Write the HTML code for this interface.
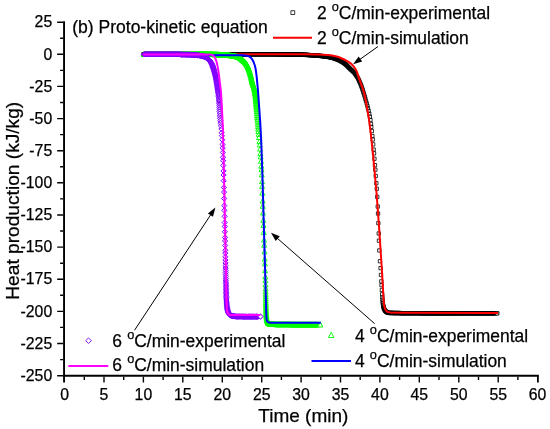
<!DOCTYPE html>
<html><head><meta charset="utf-8"><title>Proto-kinetic equation</title>
<style>
html,body{margin:0;padding:0;background:#fff;}
svg{display:block;}
text{font-family:"Liberation Sans",Arial,sans-serif;fill:#000;stroke:#000;stroke-width:0.25px;}
.tk{font-size:15.8px;}
.lg{font-size:17.45px;}
.sup{font-size:12.8px;}
.ti{font-size:17.5px;}
.al{font-size:19.15px;}
</style></head><body>
<svg width="550" height="429" viewBox="0 0 550 429">
<rect width="550" height="429" fill="#fff"/>
<!-- 2 C/min experimental -->
<path d="M141.8 52.6h3.3v3.3h-3.3zM142.3 52.6h3.3v3.3h-3.3zM142.8 52.6h3.3v3.3h-3.3zM143.3 52.6h3.3v3.3h-3.3zM143.8 52.6h3.3v3.3h-3.3zM144.3 52.6h3.3v3.3h-3.3zM144.8 52.6h3.3v3.3h-3.3zM145.3 52.6h3.3v3.3h-3.3zM145.8 52.6h3.3v3.3h-3.3zM146.3 52.6h3.3v3.3h-3.3zM146.8 52.6h3.3v3.3h-3.3zM147.3 52.6h3.3v3.3h-3.3zM147.8 52.6h3.3v3.3h-3.3zM148.3 52.6h3.3v3.3h-3.3zM148.8 52.6h3.3v3.3h-3.3zM149.3 52.6h3.3v3.3h-3.3zM149.8 52.6h3.3v3.3h-3.3zM150.3 52.6h3.3v3.3h-3.3zM150.8 52.6h3.3v3.3h-3.3zM151.3 52.6h3.3v3.3h-3.3zM151.8 52.6h3.3v3.3h-3.3zM152.3 52.6h3.3v3.3h-3.3zM152.8 52.6h3.3v3.3h-3.3zM153.3 52.6h3.3v3.3h-3.3zM153.8 52.6h3.3v3.3h-3.3zM154.3 52.6h3.3v3.3h-3.3zM154.8 52.6h3.3v3.3h-3.3zM155.3 52.6h3.3v3.3h-3.3zM155.8 52.6h3.3v3.3h-3.3zM156.3 52.6h3.3v3.3h-3.3zM156.8 52.6h3.3v3.3h-3.3zM157.3 52.6h3.3v3.3h-3.3zM157.8 52.6h3.3v3.3h-3.3zM158.3 52.6h3.3v3.3h-3.3zM158.8 52.6h3.3v3.3h-3.3zM159.3 52.6h3.3v3.3h-3.3zM159.8 52.6h3.3v3.3h-3.3zM160.3 52.6h3.3v3.3h-3.3zM160.8 52.6h3.3v3.3h-3.3zM161.3 52.6h3.3v3.3h-3.3zM161.8 52.6h3.3v3.3h-3.3zM162.3 52.6h3.3v3.3h-3.3zM162.8 52.6h3.3v3.3h-3.3zM163.3 52.6h3.3v3.3h-3.3zM163.8 52.6h3.3v3.3h-3.3zM164.3 52.6h3.3v3.3h-3.3zM164.8 52.6h3.3v3.3h-3.3zM165.3 52.6h3.3v3.3h-3.3zM165.8 52.6h3.3v3.3h-3.3zM166.3 52.6h3.3v3.3h-3.3zM166.8 52.6h3.3v3.3h-3.3zM167.3 52.6h3.3v3.3h-3.3zM167.8 52.6h3.3v3.3h-3.3zM168.3 52.6h3.3v3.3h-3.3zM168.8 52.6h3.3v3.3h-3.3zM169.3 52.6h3.3v3.3h-3.3zM169.8 52.6h3.3v3.3h-3.3zM170.3 52.6h3.3v3.3h-3.3zM170.8 52.6h3.3v3.3h-3.3zM171.3 52.6h3.3v3.3h-3.3zM171.8 52.6h3.3v3.3h-3.3zM172.3 52.6h3.3v3.3h-3.3zM172.8 52.6h3.3v3.3h-3.3zM173.3 52.6h3.3v3.3h-3.3zM173.8 52.6h3.3v3.3h-3.3zM174.3 52.6h3.3v3.3h-3.3zM174.8 52.6h3.3v3.3h-3.3zM175.3 52.6h3.3v3.3h-3.3zM175.8 52.6h3.3v3.3h-3.3zM176.3 52.6h3.3v3.3h-3.3zM176.8 52.6h3.3v3.3h-3.3zM177.3 52.6h3.3v3.3h-3.3zM177.8 52.6h3.3v3.3h-3.3zM178.3 52.6h3.3v3.3h-3.3zM178.8 52.6h3.3v3.3h-3.3zM179.3 52.6h3.3v3.3h-3.3zM179.8 52.6h3.3v3.3h-3.3zM180.3 52.6h3.3v3.3h-3.3zM180.8 52.6h3.3v3.3h-3.3zM181.3 52.6h3.3v3.3h-3.3zM181.8 52.6h3.3v3.3h-3.3zM182.3 52.6h3.3v3.3h-3.3zM182.8 52.6h3.3v3.3h-3.3zM183.3 52.6h3.3v3.3h-3.3zM183.8 52.6h3.3v3.3h-3.3zM184.3 52.6h3.3v3.3h-3.3zM184.8 52.6h3.3v3.3h-3.3zM185.3 52.6h3.3v3.3h-3.3zM185.8 52.6h3.3v3.3h-3.3zM186.3 52.6h3.3v3.3h-3.3zM186.8 52.6h3.3v3.3h-3.3zM187.3 52.6h3.3v3.3h-3.3zM187.8 52.6h3.3v3.3h-3.3zM188.3 52.6h3.3v3.3h-3.3zM188.8 52.6h3.3v3.3h-3.3zM189.3 52.6h3.3v3.3h-3.3zM189.8 52.6h3.3v3.3h-3.3zM190.3 52.6h3.3v3.3h-3.3zM190.8 52.6h3.3v3.3h-3.3zM191.3 52.6h3.3v3.3h-3.3zM191.8 52.6h3.3v3.3h-3.3zM192.3 52.6h3.3v3.3h-3.3zM192.8 52.6h3.3v3.3h-3.3zM193.3 52.6h3.3v3.3h-3.3zM193.8 52.6h3.3v3.3h-3.3zM194.3 52.6h3.3v3.3h-3.3zM194.8 52.6h3.3v3.3h-3.3zM195.3 52.6h3.3v3.3h-3.3zM195.8 52.6h3.3v3.3h-3.3zM196.3 52.6h3.3v3.3h-3.3zM196.8 52.6h3.3v3.3h-3.3zM197.3 52.6h3.3v3.3h-3.3zM197.8 52.6h3.3v3.3h-3.3zM198.3 52.6h3.3v3.3h-3.3zM198.8 52.6h3.3v3.3h-3.3zM199.3 52.6h3.3v3.3h-3.3zM199.8 52.6h3.3v3.3h-3.3zM200.3 52.6h3.3v3.3h-3.3zM200.8 52.6h3.3v3.3h-3.3zM201.3 52.6h3.3v3.3h-3.3zM201.8 52.6h3.3v3.3h-3.3zM202.3 52.6h3.3v3.3h-3.3zM202.8 52.6h3.3v3.3h-3.3zM203.3 52.6h3.3v3.3h-3.3zM203.8 52.6h3.3v3.3h-3.3zM204.3 52.6h3.3v3.3h-3.3zM204.8 52.6h3.3v3.3h-3.3zM205.3 52.6h3.3v3.3h-3.3zM205.8 52.6h3.3v3.3h-3.3zM206.3 52.6h3.3v3.3h-3.3zM206.8 52.6h3.3v3.3h-3.3zM207.3 52.6h3.3v3.3h-3.3zM207.8 52.6h3.3v3.3h-3.3zM208.3 52.6h3.3v3.3h-3.3zM208.8 52.6h3.3v3.3h-3.3zM209.3 52.6h3.3v3.3h-3.3zM209.8 52.6h3.3v3.3h-3.3zM210.3 52.6h3.3v3.3h-3.3zM210.8 52.6h3.3v3.3h-3.3zM211.3 52.6h3.3v3.3h-3.3zM211.8 52.6h3.3v3.3h-3.3zM212.3 52.6h3.3v3.3h-3.3zM212.8 52.6h3.3v3.3h-3.3zM213.3 52.6h3.3v3.3h-3.3zM213.8 52.6h3.3v3.3h-3.3zM214.3 52.6h3.3v3.3h-3.3zM214.8 52.6h3.3v3.3h-3.3zM215.3 52.6h3.3v3.3h-3.3zM215.8 52.6h3.3v3.3h-3.3zM216.3 52.6h3.3v3.3h-3.3zM216.8 52.6h3.3v3.3h-3.3zM217.3 52.6h3.3v3.3h-3.3zM217.8 52.6h3.3v3.3h-3.3zM218.3 52.6h3.3v3.3h-3.3zM218.8 52.6h3.3v3.3h-3.3zM219.3 52.6h3.3v3.3h-3.3zM219.8 52.6h3.3v3.3h-3.3zM220.3 52.6h3.3v3.3h-3.3zM220.8 52.6h3.3v3.3h-3.3zM221.3 52.6h3.3v3.3h-3.3zM221.8 52.6h3.3v3.3h-3.3zM222.3 52.6h3.3v3.3h-3.3zM222.8 52.6h3.3v3.3h-3.3zM223.3 52.6h3.3v3.3h-3.3zM223.8 52.6h3.3v3.3h-3.3zM224.3 52.6h3.3v3.3h-3.3zM224.8 52.6h3.3v3.3h-3.3zM225.3 52.6h3.3v3.3h-3.3zM225.8 52.6h3.3v3.3h-3.3zM226.3 52.6h3.3v3.3h-3.3zM226.8 52.6h3.3v3.3h-3.3zM227.3 52.6h3.3v3.3h-3.3zM227.8 52.6h3.3v3.3h-3.3zM228.3 52.6h3.3v3.3h-3.3zM228.8 52.6h3.3v3.3h-3.3zM229.3 52.6h3.3v3.3h-3.3zM229.8 52.6h3.3v3.3h-3.3zM230.3 52.6h3.3v3.3h-3.3zM230.8 52.6h3.3v3.3h-3.3zM231.3 52.6h3.3v3.3h-3.3zM231.8 52.6h3.3v3.3h-3.3zM232.3 52.6h3.3v3.3h-3.3zM232.8 52.6h3.3v3.3h-3.3zM233.3 52.6h3.3v3.3h-3.3zM233.8 52.6h3.3v3.3h-3.3zM234.3 52.6h3.3v3.3h-3.3zM234.8 52.6h3.3v3.3h-3.3zM235.3 52.6h3.3v3.3h-3.3zM235.8 52.6h3.3v3.3h-3.3zM236.3 52.6h3.3v3.3h-3.3zM236.8 52.6h3.3v3.3h-3.3zM237.3 52.6h3.3v3.3h-3.3zM237.8 52.6h3.3v3.3h-3.3zM238.3 52.6h3.3v3.3h-3.3zM238.8 52.6h3.3v3.3h-3.3zM239.3 52.6h3.3v3.3h-3.3zM239.8 52.6h3.3v3.3h-3.3zM240.3 52.6h3.3v3.3h-3.3zM240.8 52.6h3.3v3.3h-3.3zM241.3 52.6h3.3v3.3h-3.3zM241.8 52.6h3.3v3.3h-3.3zM242.3 52.6h3.3v3.3h-3.3zM242.8 52.6h3.3v3.3h-3.3zM243.3 52.6h3.3v3.3h-3.3zM243.8 52.6h3.3v3.3h-3.3zM244.3 52.6h3.3v3.3h-3.3zM244.7 52.6h3.3v3.3h-3.3zM245.2 52.6h3.3v3.3h-3.3zM245.7 52.6h3.3v3.3h-3.3zM246.2 52.6h3.3v3.3h-3.3zM246.7 52.6h3.3v3.3h-3.3zM247.2 52.6h3.3v3.3h-3.3zM247.7 52.6h3.3v3.3h-3.3zM248.2 52.6h3.3v3.3h-3.3zM248.7 52.6h3.3v3.3h-3.3zM249.2 52.6h3.3v3.3h-3.3zM249.7 52.6h3.3v3.3h-3.3zM250.2 52.6h3.3v3.3h-3.3zM250.8 52.6h3.3v3.3h-3.3zM251.3 52.6h3.3v3.3h-3.3zM251.8 52.6h3.3v3.3h-3.3zM252.3 52.6h3.3v3.3h-3.3zM252.8 52.6h3.3v3.3h-3.3zM253.3 52.6h3.3v3.3h-3.3zM253.8 52.6h3.3v3.3h-3.3zM254.3 52.6h3.3v3.3h-3.3zM254.8 52.6h3.3v3.3h-3.3zM255.3 52.6h3.3v3.3h-3.3zM255.8 52.6h3.3v3.3h-3.3zM256.3 52.6h3.3v3.3h-3.3zM256.8 52.6h3.3v3.3h-3.3zM257.3 52.6h3.3v3.3h-3.3zM257.8 52.6h3.3v3.3h-3.3zM258.3 52.6h3.3v3.3h-3.3zM258.8 52.6h3.3v3.3h-3.3zM259.3 52.6h3.3v3.3h-3.3zM259.8 52.6h3.3v3.3h-3.3zM260.3 52.6h3.3v3.3h-3.3zM260.8 52.6h3.3v3.3h-3.3zM261.3 52.6h3.3v3.3h-3.3zM261.8 52.6h3.3v3.3h-3.3zM262.3 52.6h3.3v3.3h-3.3zM262.8 52.6h3.3v3.3h-3.3zM263.3 52.6h3.3v3.3h-3.3zM263.8 52.6h3.3v3.3h-3.3zM264.3 52.6h3.3v3.3h-3.3zM264.8 52.6h3.3v3.3h-3.3zM265.3 52.6h3.3v3.3h-3.3zM265.8 52.6h3.3v3.3h-3.3zM266.3 52.6h3.3v3.3h-3.3zM266.8 52.6h3.3v3.3h-3.3zM267.3 52.6h3.3v3.3h-3.3zM267.8 52.6h3.3v3.3h-3.3zM268.3 52.6h3.3v3.3h-3.3zM268.8 52.6h3.3v3.3h-3.3zM269.3 52.6h3.3v3.3h-3.3zM269.8 52.6h3.3v3.3h-3.3zM270.3 52.6h3.3v3.3h-3.3zM270.8 52.6h3.3v3.3h-3.3zM271.3 52.6h3.3v3.3h-3.3zM271.8 52.6h3.3v3.3h-3.3zM272.3 52.6h3.3v3.3h-3.3zM272.8 52.6h3.3v3.3h-3.3zM273.3 52.6h3.3v3.3h-3.3zM273.8 52.6h3.3v3.3h-3.3zM274.3 52.7h3.3v3.3h-3.3zM274.8 52.7h3.3v3.3h-3.3zM275.3 52.7h3.3v3.3h-3.3zM275.8 52.7h3.3v3.3h-3.3zM276.3 52.7h3.3v3.3h-3.3zM276.8 52.7h3.3v3.3h-3.3zM277.3 52.7h3.3v3.3h-3.3zM277.8 52.7h3.3v3.3h-3.3zM278.3 52.7h3.3v3.3h-3.3zM278.8 52.7h3.3v3.3h-3.3zM279.3 52.7h3.3v3.3h-3.3zM279.8 52.7h3.3v3.3h-3.3zM280.3 52.7h3.3v3.3h-3.3zM280.8 52.7h3.3v3.3h-3.3zM281.3 52.7h3.3v3.3h-3.3zM281.8 52.7h3.3v3.3h-3.3zM282.3 52.7h3.3v3.3h-3.3zM282.8 52.7h3.3v3.3h-3.3zM283.3 52.7h3.3v3.3h-3.3zM283.8 52.7h3.3v3.3h-3.3zM284.3 52.7h3.3v3.3h-3.3zM284.8 52.7h3.3v3.3h-3.3zM285.3 52.8h3.3v3.3h-3.3zM285.8 52.8h3.3v3.3h-3.3zM286.3 52.8h3.3v3.3h-3.3zM286.8 52.8h3.3v3.3h-3.3zM287.3 52.8h3.3v3.3h-3.3zM287.8 52.8h3.3v3.3h-3.3zM288.3 52.8h3.3v3.3h-3.3zM288.8 52.8h3.3v3.3h-3.3zM289.3 52.8h3.3v3.3h-3.3zM289.8 52.8h3.3v3.3h-3.3zM290.3 52.8h3.3v3.3h-3.3zM290.8 52.8h3.3v3.3h-3.3zM291.3 52.8h3.3v3.3h-3.3zM291.8 52.8h3.3v3.3h-3.3zM292.2 52.8h3.3v3.3h-3.3zM292.7 52.8h3.3v3.3h-3.3zM293.2 52.8h3.3v3.3h-3.3zM293.7 52.9h3.3v3.3h-3.3zM294.2 52.9h3.3v3.3h-3.3zM294.7 52.9h3.3v3.3h-3.3zM295.2 52.9h3.3v3.3h-3.3zM295.7 52.9h3.3v3.3h-3.3zM296.2 52.9h3.3v3.3h-3.3zM296.7 52.9h3.3v3.3h-3.3zM297.2 52.9h3.3v3.3h-3.3zM297.7 52.9h3.3v3.3h-3.3zM298.2 53.0h3.3v3.3h-3.3zM298.7 53.0h3.3v3.3h-3.3zM299.2 53.0h3.3v3.3h-3.3zM299.7 53.0h3.3v3.3h-3.3zM300.2 53.0h3.3v3.3h-3.3zM300.7 53.1h3.3v3.3h-3.3zM301.2 53.1h3.3v3.3h-3.3zM301.7 53.1h3.3v3.3h-3.3zM302.2 53.1h3.3v3.3h-3.3zM302.7 53.2h3.3v3.3h-3.3zM303.2 53.2h3.3v3.3h-3.3zM303.7 53.2h3.3v3.3h-3.3zM304.2 53.2h3.3v3.3h-3.3zM304.7 53.3h3.3v3.3h-3.3zM305.2 53.3h3.3v3.3h-3.3zM305.7 53.3h3.3v3.3h-3.3zM306.2 53.3h3.3v3.3h-3.3zM306.7 53.4h3.3v3.3h-3.3zM307.2 53.4h3.3v3.3h-3.3zM307.7 53.4h3.3v3.3h-3.3zM308.2 53.5h3.3v3.3h-3.3zM308.7 53.5h3.3v3.3h-3.3zM309.2 53.5h3.3v3.3h-3.3zM309.7 53.6h3.3v3.3h-3.3zM310.2 53.6h3.3v3.3h-3.3zM310.7 53.6h3.3v3.3h-3.3zM311.2 53.7h3.3v3.3h-3.3zM311.7 53.7h3.3v3.3h-3.3zM312.2 53.7h3.3v3.3h-3.3zM312.7 53.8h3.3v3.3h-3.3zM313.2 53.8h3.3v3.3h-3.3zM313.7 53.8h3.3v3.3h-3.3zM314.2 53.9h3.3v3.3h-3.3zM314.7 53.9h3.3v3.3h-3.3zM315.2 54.0h3.3v3.3h-3.3zM315.7 54.0h3.3v3.3h-3.3zM316.2 54.0h3.3v3.3h-3.3zM316.7 54.1h3.3v3.3h-3.3zM317.2 54.1h3.3v3.3h-3.3zM317.7 54.2h3.3v3.3h-3.3zM318.2 54.2h3.3v3.3h-3.3zM318.7 54.3h3.3v3.3h-3.3zM319.2 54.3h3.3v3.3h-3.3zM319.7 54.4h3.3v3.3h-3.3zM320.2 54.4h3.3v3.3h-3.3zM320.7 54.5h3.3v3.3h-3.3zM321.2 54.5h3.3v3.3h-3.3zM321.7 54.6h3.3v3.3h-3.3zM322.2 54.6h3.3v3.3h-3.3zM322.7 54.7h3.3v3.3h-3.3zM323.2 54.8h3.3v3.3h-3.3zM323.7 54.8h3.3v3.3h-3.3zM324.2 54.9h3.3v3.3h-3.3zM324.7 55.0h3.3v3.3h-3.3zM325.2 55.1h3.3v3.3h-3.3zM325.7 55.1h3.3v3.3h-3.3zM326.2 55.2h3.3v3.3h-3.3zM326.7 55.3h3.3v3.3h-3.3zM327.2 55.4h3.3v3.3h-3.3zM327.6 55.5h3.3v3.3h-3.3zM328.1 55.6h3.3v3.3h-3.3zM328.6 55.6h3.3v3.3h-3.3zM329.1 55.7h3.3v3.3h-3.3zM329.6 55.8h3.3v3.3h-3.3zM330.1 56.0h3.3v3.3h-3.3zM330.6 56.1h3.3v3.3h-3.3zM331.0 56.2h3.3v3.3h-3.3zM331.5 56.4h3.3v3.3h-3.3zM332.0 56.5h3.3v3.3h-3.3zM332.5 56.7h3.3v3.3h-3.3zM333.0 56.8h3.3v3.3h-3.3zM333.5 57.0h3.3v3.3h-3.3zM334.0 57.2h3.3v3.3h-3.3zM334.5 57.4h3.3v3.3h-3.3zM335.0 57.6h3.3v3.3h-3.3zM335.5 57.8h3.3v3.3h-3.3zM336.0 58.0h3.3v3.3h-3.3zM336.5 58.2h3.3v3.3h-3.3zM337.0 58.4h3.3v3.3h-3.3zM337.5 58.6h3.3v3.3h-3.3zM338.1 58.9h3.3v3.3h-3.3zM338.6 59.2h3.3v3.3h-3.3zM339.1 59.5h3.3v3.3h-3.3zM339.7 59.8h3.3v3.3h-3.3zM340.2 60.1h3.3v3.3h-3.3zM340.8 60.4h3.3v3.3h-3.3zM341.3 60.8h3.3v3.3h-3.3zM341.9 61.2h3.3v3.3h-3.3zM342.5 61.6h3.3v3.3h-3.3zM343.0 62.0h3.3v3.3h-3.3zM343.6 62.4h3.3v3.3h-3.3zM344.1 62.8h3.3v3.3h-3.3zM344.7 63.3h3.3v3.3h-3.3zM345.2 63.8h3.3v3.3h-3.3zM345.8 64.4h3.3v3.3h-3.3zM346.3 65.0h3.3v3.3h-3.3zM346.9 65.6h3.3v3.3h-3.3zM347.4 66.2h3.3v3.3h-3.3zM348.1 66.8h3.3v3.3h-3.3zM348.7 67.4h3.3v3.3h-3.3zM349.4 68.0h3.3v3.3h-3.3zM350.1 68.6h3.3v3.3h-3.3zM350.8 69.3h3.3v3.3h-3.3zM351.5 69.9h3.3v3.3h-3.3zM352.2 70.6h3.3v3.3h-3.3zM352.9 71.4h3.3v3.3h-3.3zM353.5 72.2h3.3v3.3h-3.3zM354.1 73.1h3.3v3.3h-3.3zM354.7 74.0h3.3v3.3h-3.3zM355.3 74.9h3.3v3.3h-3.3zM355.9 75.9h3.3v3.3h-3.3zM356.5 77.0h3.3v3.3h-3.3zM357.0 78.1h3.3v3.3h-3.3zM357.5 79.2h3.3v3.3h-3.3zM358.0 80.4h3.3v3.3h-3.3zM358.6 81.6h3.3v3.3h-3.3zM359.1 82.9h3.3v3.3h-3.3zM359.6 84.2h3.3v3.3h-3.3zM360.1 85.6h3.3v3.3h-3.3zM360.6 87.0h3.3v3.3h-3.3zM361.1 88.5h3.3v3.3h-3.3zM361.6 90.1h3.3v3.3h-3.3zM362.1 91.8h3.3v3.3h-3.3zM362.7 93.6h3.3v3.3h-3.3zM363.3 95.5h3.3v3.3h-3.3zM363.8 97.5h3.3v3.3h-3.3zM364.4 99.6h3.3v3.3h-3.3zM365.1 101.8h3.3v3.3h-3.3zM365.7 104.1h3.3v3.3h-3.3zM366.3 106.5h3.3v3.3h-3.3zM367.0 109.2h3.3v3.3h-3.3zM367.6 112.0h3.3v3.3h-3.3zM368.2 115.0h3.3v3.3h-3.3zM368.8 118.4h3.3v3.3h-3.3zM369.3 122.3h3.3v3.3h-3.3zM369.6 125.2h3.3v3.3h-3.3zM370.2 129.4h3.3v3.3h-3.3zM370.7 134.4h3.3v3.3h-3.3zM371.1 137.9h3.3v3.3h-3.3zM371.5 142.7h3.3v3.3h-3.3zM372.0 147.9h3.3v3.3h-3.3zM372.4 151.7h3.3v3.3h-3.3zM372.8 157.1h3.3v3.3h-3.3zM373.3 163.5h3.3v3.3h-3.3zM373.7 168.0h3.3v3.3h-3.3zM374.1 174.3h3.3v3.3h-3.3zM374.7 181.6h3.3v3.3h-3.3zM375.1 187.1h3.3v3.3h-3.3zM375.6 195.2h3.3v3.3h-3.3zM376.1 204.9h3.3v3.3h-3.3zM376.4 211.9h3.3v3.3h-3.3zM376.7 221.5h3.3v3.3h-3.3zM377.1 231.8h3.3v3.3h-3.3zM377.3 239.0h3.3v3.3h-3.3zM377.7 248.8h3.3v3.3h-3.3zM378.3 259.6h3.3v3.3h-3.3zM378.9 266.5h3.3v3.3h-3.3zM379.3 273.3h3.3v3.3h-3.3zM379.7 279.7h3.3v3.3h-3.3zM379.9 283.5h3.3v3.3h-3.3zM380.2 288.3h3.3v3.3h-3.3zM380.5 292.7h3.3v3.3h-3.3zM380.7 295.7h3.3v3.3h-3.3zM380.8 298.0h3.3v3.3h-3.3zM381.0 300.0h3.3v3.3h-3.3zM381.2 301.5h3.3v3.3h-3.3zM381.4 302.9h3.3v3.3h-3.3zM381.6 304.0h3.3v3.3h-3.3zM381.8 305.0h3.3v3.3h-3.3zM382.0 305.9h3.3v3.3h-3.3zM382.2 306.6h3.3v3.3h-3.3zM382.4 307.2h3.3v3.3h-3.3zM382.7 307.8h3.3v3.3h-3.3zM383.0 308.4h3.3v3.3h-3.3zM383.4 308.9h3.3v3.3h-3.3zM383.7 309.3h3.3v3.3h-3.3zM384.0 309.7h3.3v3.3h-3.3zM384.4 310.0h3.3v3.3h-3.3zM384.7 310.2h3.3v3.3h-3.3zM385.2 310.5h3.3v3.3h-3.3zM385.6 310.8h3.3v3.3h-3.3zM386.1 311.0h3.3v3.3h-3.3zM386.6 311.1h3.3v3.3h-3.3zM387.1 311.2h3.3v3.3h-3.3zM387.6 311.3h3.3v3.3h-3.3zM388.1 311.3h3.3v3.3h-3.3zM388.5 311.3h3.3v3.3h-3.3zM389.0 311.3h3.3v3.3h-3.3zM389.5 311.3h3.3v3.3h-3.3zM390.0 311.3h3.3v3.3h-3.3zM390.5 311.3h3.3v3.3h-3.3zM390.9 311.3h3.3v3.3h-3.3zM391.4 311.3h3.3v3.3h-3.3zM391.9 311.4h3.3v3.3h-3.3zM392.4 311.4h3.3v3.3h-3.3zM392.9 311.4h3.3v3.3h-3.3zM393.4 311.4h3.3v3.3h-3.3zM393.9 311.4h3.3v3.3h-3.3zM394.4 311.4h3.3v3.3h-3.3zM394.9 311.4h3.3v3.3h-3.3zM395.4 311.4h3.3v3.3h-3.3zM395.9 311.4h3.3v3.3h-3.3zM396.4 311.4h3.3v3.3h-3.3zM396.9 311.4h3.3v3.3h-3.3zM397.4 311.4h3.3v3.3h-3.3zM397.9 311.4h3.3v3.3h-3.3zM398.4 311.4h3.3v3.3h-3.3zM398.9 311.5h3.3v3.3h-3.3zM399.4 311.5h3.3v3.3h-3.3zM399.9 311.5h3.3v3.3h-3.3zM400.4 311.5h3.3v3.3h-3.3zM400.9 311.5h3.3v3.3h-3.3zM401.4 311.5h3.3v3.3h-3.3zM401.9 311.5h3.3v3.3h-3.3zM402.4 311.5h3.3v3.3h-3.3zM402.9 311.5h3.3v3.3h-3.3zM403.4 311.5h3.3v3.3h-3.3zM403.9 311.5h3.3v3.3h-3.3zM404.4 311.5h3.3v3.3h-3.3zM404.9 311.5h3.3v3.3h-3.3zM405.4 311.5h3.3v3.3h-3.3zM405.9 311.5h3.3v3.3h-3.3zM406.5 311.5h3.3v3.3h-3.3zM407.0 311.5h3.3v3.3h-3.3zM407.5 311.5h3.3v3.3h-3.3zM408.0 311.5h3.3v3.3h-3.3zM408.5 311.5h3.3v3.3h-3.3zM409.0 311.5h3.3v3.3h-3.3zM409.5 311.5h3.3v3.3h-3.3zM410.0 311.5h3.3v3.3h-3.3zM410.5 311.5h3.3v3.3h-3.3zM411.0 311.5h3.3v3.3h-3.3zM411.5 311.5h3.3v3.3h-3.3zM412.0 311.5h3.3v3.3h-3.3zM412.6 311.5h3.3v3.3h-3.3zM413.1 311.5h3.3v3.3h-3.3zM413.6 311.5h3.3v3.3h-3.3zM414.1 311.5h3.3v3.3h-3.3zM414.6 311.5h3.3v3.3h-3.3zM415.1 311.5h3.3v3.3h-3.3zM415.6 311.5h3.3v3.3h-3.3zM416.1 311.5h3.3v3.3h-3.3zM416.6 311.5h3.3v3.3h-3.3zM417.1 311.5h3.3v3.3h-3.3zM417.6 311.5h3.3v3.3h-3.3zM418.1 311.5h3.3v3.3h-3.3zM418.6 311.6h3.3v3.3h-3.3zM419.1 311.6h3.3v3.3h-3.3zM419.6 311.6h3.3v3.3h-3.3zM420.1 311.6h3.3v3.3h-3.3zM420.6 311.6h3.3v3.3h-3.3zM421.1 311.6h3.3v3.3h-3.3zM421.6 311.6h3.3v3.3h-3.3zM422.1 311.6h3.3v3.3h-3.3zM422.6 311.6h3.3v3.3h-3.3zM423.1 311.6h3.3v3.3h-3.3zM423.6 311.6h3.3v3.3h-3.3zM424.1 311.6h3.3v3.3h-3.3zM424.6 311.6h3.3v3.3h-3.3zM425.1 311.6h3.3v3.3h-3.3zM425.6 311.6h3.3v3.3h-3.3zM426.1 311.6h3.3v3.3h-3.3zM426.6 311.6h3.3v3.3h-3.3zM427.1 311.6h3.3v3.3h-3.3zM427.6 311.6h3.3v3.3h-3.3zM428.1 311.6h3.3v3.3h-3.3zM428.6 311.6h3.3v3.3h-3.3zM429.1 311.6h3.3v3.3h-3.3zM429.6 311.6h3.3v3.3h-3.3zM430.1 311.6h3.3v3.3h-3.3zM430.6 311.6h3.3v3.3h-3.3zM431.1 311.6h3.3v3.3h-3.3zM431.6 311.6h3.3v3.3h-3.3zM432.1 311.6h3.3v3.3h-3.3zM432.6 311.6h3.3v3.3h-3.3zM433.1 311.6h3.3v3.3h-3.3zM433.6 311.6h3.3v3.3h-3.3zM434.1 311.6h3.3v3.3h-3.3zM434.6 311.6h3.3v3.3h-3.3zM435.1 311.6h3.3v3.3h-3.3zM435.6 311.6h3.3v3.3h-3.3zM436.1 311.6h3.3v3.3h-3.3zM436.6 311.6h3.3v3.3h-3.3zM437.1 311.6h3.3v3.3h-3.3zM437.6 311.6h3.3v3.3h-3.3zM438.1 311.6h3.3v3.3h-3.3zM438.6 311.6h3.3v3.3h-3.3zM439.1 311.6h3.3v3.3h-3.3zM439.6 311.6h3.3v3.3h-3.3zM440.1 311.6h3.3v3.3h-3.3zM440.6 311.6h3.3v3.3h-3.3zM441.1 311.6h3.3v3.3h-3.3zM441.6 311.6h3.3v3.3h-3.3zM442.1 311.6h3.3v3.3h-3.3zM442.6 311.6h3.3v3.3h-3.3zM443.1 311.6h3.3v3.3h-3.3zM443.6 311.6h3.3v3.3h-3.3zM444.1 311.6h3.3v3.3h-3.3zM444.6 311.6h3.3v3.3h-3.3zM445.1 311.6h3.3v3.3h-3.3zM445.6 311.6h3.3v3.3h-3.3zM446.1 311.6h3.3v3.3h-3.3zM446.6 311.6h3.3v3.3h-3.3zM447.1 311.6h3.3v3.3h-3.3zM447.6 311.6h3.3v3.3h-3.3zM448.1 311.6h3.3v3.3h-3.3zM448.6 311.6h3.3v3.3h-3.3zM449.1 311.6h3.3v3.3h-3.3zM449.6 311.6h3.3v3.3h-3.3zM450.1 311.6h3.3v3.3h-3.3zM450.6 311.6h3.3v3.3h-3.3zM451.1 311.6h3.3v3.3h-3.3zM451.6 311.6h3.3v3.3h-3.3zM452.1 311.6h3.3v3.3h-3.3zM452.6 311.6h3.3v3.3h-3.3zM453.1 311.6h3.3v3.3h-3.3zM453.6 311.6h3.3v3.3h-3.3zM454.1 311.6h3.3v3.3h-3.3zM454.6 311.6h3.3v3.3h-3.3zM455.1 311.6h3.3v3.3h-3.3zM455.6 311.6h3.3v3.3h-3.3zM456.1 311.6h3.3v3.3h-3.3zM456.6 311.6h3.3v3.3h-3.3zM457.1 311.6h3.3v3.3h-3.3zM457.6 311.6h3.3v3.3h-3.3zM458.1 311.6h3.3v3.3h-3.3zM458.6 311.6h3.3v3.3h-3.3zM459.1 311.6h3.3v3.3h-3.3zM459.6 311.6h3.3v3.3h-3.3zM460.1 311.6h3.3v3.3h-3.3zM460.6 311.6h3.3v3.3h-3.3zM461.1 311.6h3.3v3.3h-3.3zM461.6 311.6h3.3v3.3h-3.3zM462.1 311.6h3.3v3.3h-3.3zM462.6 311.6h3.3v3.3h-3.3zM463.1 311.6h3.3v3.3h-3.3zM463.6 311.6h3.3v3.3h-3.3zM464.1 311.6h3.3v3.3h-3.3zM464.6 311.6h3.3v3.3h-3.3zM465.1 311.6h3.3v3.3h-3.3zM465.6 311.6h3.3v3.3h-3.3zM466.1 311.6h3.3v3.3h-3.3zM466.6 311.6h3.3v3.3h-3.3zM467.1 311.6h3.3v3.3h-3.3zM467.6 311.6h3.3v3.3h-3.3zM468.1 311.6h3.3v3.3h-3.3zM468.6 311.6h3.3v3.3h-3.3zM469.1 311.6h3.3v3.3h-3.3zM469.6 311.6h3.3v3.3h-3.3zM470.1 311.6h3.3v3.3h-3.3zM470.6 311.6h3.3v3.3h-3.3zM471.1 311.6h3.3v3.3h-3.3zM471.6 311.6h3.3v3.3h-3.3zM472.1 311.6h3.3v3.3h-3.3zM472.6 311.6h3.3v3.3h-3.3zM473.1 311.6h3.3v3.3h-3.3zM473.6 311.6h3.3v3.3h-3.3zM474.1 311.6h3.3v3.3h-3.3zM474.6 311.6h3.3v3.3h-3.3zM475.1 311.6h3.3v3.3h-3.3zM475.6 311.6h3.3v3.3h-3.3zM476.1 311.6h3.3v3.3h-3.3zM476.6 311.6h3.3v3.3h-3.3zM477.1 311.6h3.3v3.3h-3.3zM477.6 311.6h3.3v3.3h-3.3zM478.1 311.6h3.3v3.3h-3.3zM478.6 311.6h3.3v3.3h-3.3zM479.1 311.6h3.3v3.3h-3.3zM479.6 311.6h3.3v3.3h-3.3zM480.1 311.6h3.3v3.3h-3.3zM480.6 311.6h3.3v3.3h-3.3zM481.1 311.6h3.3v3.3h-3.3zM481.6 311.6h3.3v3.3h-3.3zM482.1 311.6h3.3v3.3h-3.3zM482.6 311.6h3.3v3.3h-3.3zM483.1 311.6h3.3v3.3h-3.3zM483.6 311.6h3.3v3.3h-3.3zM484.1 311.6h3.3v3.3h-3.3zM484.6 311.6h3.3v3.3h-3.3zM485.1 311.6h3.3v3.3h-3.3zM485.6 311.6h3.3v3.3h-3.3zM486.1 311.6h3.3v3.3h-3.3zM486.6 311.6h3.3v3.3h-3.3zM487.1 311.6h3.3v3.3h-3.3zM487.6 311.6h3.3v3.3h-3.3zM488.1 311.6h3.3v3.3h-3.3zM488.6 311.6h3.3v3.3h-3.3zM489.1 311.6h3.3v3.3h-3.3zM489.6 311.6h3.3v3.3h-3.3zM490.1 311.6h3.3v3.3h-3.3zM490.6 311.6h3.3v3.3h-3.3zM491.1 311.6h3.3v3.3h-3.3zM491.6 311.6h3.3v3.3h-3.3zM492.1 311.6h3.3v3.3h-3.3zM492.6 311.6h3.3v3.3h-3.3zM493.1 311.6h3.3v3.3h-3.3zM493.6 311.6h3.3v3.3h-3.3zM495.5 311.6h3.3v3.3h-3.3z" fill="none" stroke="#000" stroke-width="0.8"/>
<path d="M495.5 311.7h3.3v3.3h-3.3z" fill="#fff" stroke="#000" stroke-width="0.8"/>
<path d="M143.4 54.3L276.4 54.2L304.4 54.2L318.8 54.5L328.1 55.0L332.0 55.5L336.7 56.5L339.7 57.5L344.2 59.5L347.7 61.3L350.3 63.1L352.2 64.8L354.3 67.2L356.0 69.8L357.1 72.2L358.9 77.9L362.9 88.8L364.3 93.5L365.8 100.8L368.9 118.5L370.7 132.8L373.1 155.1L376.3 190.0L378.9 224.9L381.8 268.5L383.4 296.4L383.8 302.5L384.2 305.6L384.9 308.6L385.8 310.2L386.7 311.3L388.2 312.0L389.7 312.4L404.0 312.7L489.3 312.9L496.8 312.9L497.9 312.9L498.0 312.9" fill="none" stroke="#f00" stroke-width="2" stroke-linejoin="round"/>
<!-- 4 C/min -->
<path d="M144.0 51.6l2.5 4.8h-5.0zM144.4 51.6l2.5 4.8h-5.0zM144.7 51.6l2.5 4.8h-5.0zM145.1 51.6l2.5 4.8h-5.0zM145.4 51.6l2.5 4.8h-5.0zM145.8 51.6l2.5 4.8h-5.0zM146.1 51.6l2.5 4.8h-5.0zM146.5 51.6l2.5 4.8h-5.0zM146.8 51.6l2.5 4.8h-5.0zM147.2 51.6l2.5 4.8h-5.0zM147.5 51.6l2.5 4.8h-5.0zM147.9 51.6l2.5 4.8h-5.0zM148.2 51.6l2.5 4.8h-5.0zM148.6 51.6l2.5 4.8h-5.0zM148.9 51.6l2.5 4.8h-5.0zM149.3 51.6l2.5 4.8h-5.0zM149.6 51.6l2.5 4.8h-5.0zM150.0 51.6l2.5 4.8h-5.0zM150.3 51.6l2.5 4.8h-5.0zM150.7 51.6l2.5 4.8h-5.0zM151.0 51.6l2.5 4.8h-5.0zM151.4 51.6l2.5 4.8h-5.0zM151.7 51.6l2.5 4.8h-5.0zM152.1 51.6l2.5 4.8h-5.0zM152.4 51.6l2.5 4.8h-5.0zM152.8 51.6l2.5 4.8h-5.0zM153.1 51.6l2.5 4.8h-5.0zM153.5 51.6l2.5 4.8h-5.0zM153.8 51.6l2.5 4.8h-5.0zM154.2 51.6l2.5 4.8h-5.0zM154.5 51.6l2.5 4.8h-5.0zM154.9 51.6l2.5 4.8h-5.0zM155.2 51.6l2.5 4.8h-5.0zM155.6 51.6l2.5 4.8h-5.0zM155.9 51.6l2.5 4.8h-5.0zM156.3 51.6l2.5 4.8h-5.0zM156.6 51.6l2.5 4.8h-5.0zM157.0 51.6l2.5 4.8h-5.0zM157.3 51.6l2.5 4.8h-5.0zM157.7 51.6l2.5 4.8h-5.0zM158.0 51.6l2.5 4.8h-5.0zM158.4 51.6l2.5 4.8h-5.0zM158.7 51.6l2.5 4.8h-5.0zM159.1 51.6l2.5 4.8h-5.0zM159.4 51.6l2.5 4.8h-5.0zM159.8 51.6l2.5 4.8h-5.0zM160.1 51.6l2.5 4.8h-5.0zM160.5 51.6l2.5 4.8h-5.0zM160.8 51.6l2.5 4.8h-5.0zM161.2 51.6l2.5 4.8h-5.0zM161.5 51.6l2.5 4.8h-5.0zM161.9 51.6l2.5 4.8h-5.0zM162.2 51.6l2.5 4.8h-5.0zM162.6 51.6l2.5 4.8h-5.0zM162.9 51.6l2.5 4.8h-5.0zM163.3 51.6l2.5 4.8h-5.0zM163.6 51.6l2.5 4.8h-5.0zM164.0 51.6l2.5 4.8h-5.0zM164.3 51.6l2.5 4.8h-5.0zM164.7 51.6l2.5 4.8h-5.0zM165.0 51.6l2.5 4.8h-5.0zM165.4 51.6l2.5 4.8h-5.0zM165.7 51.6l2.5 4.8h-5.0zM166.1 51.6l2.5 4.8h-5.0zM166.4 51.6l2.5 4.8h-5.0zM166.8 51.6l2.5 4.8h-5.0zM167.1 51.6l2.5 4.8h-5.0zM167.5 51.6l2.5 4.8h-5.0zM167.8 51.6l2.5 4.8h-5.0zM168.2 51.6l2.5 4.8h-5.0zM168.5 51.6l2.5 4.8h-5.0zM168.9 51.6l2.5 4.8h-5.0zM169.2 51.6l2.5 4.8h-5.0zM169.6 51.6l2.5 4.8h-5.0zM169.9 51.6l2.5 4.8h-5.0zM170.3 51.6l2.5 4.8h-5.0zM170.6 51.6l2.5 4.8h-5.0zM171.0 51.6l2.5 4.8h-5.0zM171.3 51.6l2.5 4.8h-5.0zM171.7 51.6l2.5 4.8h-5.0zM172.0 51.6l2.5 4.8h-5.0zM172.4 51.6l2.5 4.8h-5.0zM172.7 51.6l2.5 4.8h-5.0zM173.1 51.6l2.5 4.8h-5.0zM173.4 51.6l2.5 4.8h-5.0zM173.8 51.6l2.5 4.8h-5.0zM174.1 51.6l2.5 4.8h-5.0zM174.5 51.6l2.5 4.8h-5.0zM174.8 51.6l2.5 4.8h-5.0zM175.2 51.6l2.5 4.8h-5.0zM175.5 51.6l2.5 4.8h-5.0zM175.9 51.6l2.5 4.8h-5.0zM176.2 51.6l2.5 4.8h-5.0zM176.6 51.6l2.5 4.8h-5.0zM176.9 51.6l2.5 4.8h-5.0zM177.3 51.6l2.5 4.8h-5.0zM177.6 51.6l2.5 4.8h-5.0zM178.0 51.6l2.5 4.8h-5.0zM178.3 51.6l2.5 4.8h-5.0zM178.7 51.6l2.5 4.8h-5.0zM179.0 51.6l2.5 4.8h-5.0zM179.4 51.6l2.5 4.8h-5.0zM179.7 51.6l2.5 4.8h-5.0zM180.1 51.6l2.5 4.8h-5.0zM180.4 51.6l2.5 4.8h-5.0zM180.8 51.6l2.5 4.8h-5.0zM181.1 51.6l2.5 4.8h-5.0zM181.5 51.6l2.5 4.8h-5.0zM181.8 51.6l2.5 4.8h-5.0zM182.2 51.6l2.5 4.8h-5.0zM182.5 51.6l2.5 4.8h-5.0zM182.9 51.6l2.5 4.8h-5.0zM183.2 51.6l2.5 4.8h-5.0zM183.6 51.6l2.5 4.8h-5.0zM183.9 51.6l2.5 4.8h-5.0zM184.3 51.6l2.5 4.8h-5.0zM184.6 51.6l2.5 4.8h-5.0zM185.0 51.6l2.5 4.8h-5.0zM185.3 51.6l2.5 4.8h-5.0zM185.7 51.6l2.5 4.8h-5.0zM186.0 51.6l2.5 4.8h-5.0zM186.4 51.6l2.5 4.8h-5.0zM186.7 51.6l2.5 4.8h-5.0zM187.1 51.6l2.5 4.8h-5.0zM187.4 51.6l2.5 4.8h-5.0zM187.8 51.6l2.5 4.8h-5.0zM188.1 51.6l2.5 4.8h-5.0zM188.5 51.6l2.5 4.8h-5.0zM188.8 51.6l2.5 4.8h-5.0zM189.2 51.6l2.5 4.8h-5.0zM189.5 51.6l2.5 4.8h-5.0zM189.9 51.6l2.5 4.8h-5.0zM190.2 51.6l2.5 4.8h-5.0zM190.6 51.6l2.5 4.8h-5.0zM190.9 51.6l2.5 4.8h-5.0zM191.3 51.6l2.5 4.8h-5.0zM191.6 51.6l2.5 4.8h-5.0zM192.0 51.6l2.5 4.8h-5.0zM192.3 51.6l2.5 4.8h-5.0zM192.7 51.6l2.5 4.8h-5.0zM193.0 51.6l2.5 4.8h-5.0zM193.4 51.6l2.5 4.8h-5.0zM193.7 51.6l2.5 4.8h-5.0zM194.1 51.6l2.5 4.8h-5.0zM194.4 51.6l2.5 4.8h-5.0zM194.8 51.6l2.5 4.8h-5.0zM195.1 51.6l2.5 4.8h-5.0zM195.5 51.6l2.5 4.8h-5.0zM195.8 51.6l2.5 4.8h-5.0zM196.2 51.6l2.5 4.8h-5.0zM196.5 51.6l2.5 4.8h-5.0zM196.9 51.6l2.5 4.8h-5.0zM197.2 51.6l2.5 4.8h-5.0zM197.6 51.6l2.5 4.8h-5.0zM197.9 51.6l2.5 4.8h-5.0zM198.3 51.6l2.5 4.8h-5.0zM198.6 51.6l2.5 4.8h-5.0zM199.0 51.6l2.5 4.8h-5.0zM199.3 51.6l2.5 4.8h-5.0zM199.7 51.6l2.5 4.8h-5.0zM200.0 51.6l2.5 4.8h-5.0zM200.3 51.6l2.5 4.8h-5.0zM200.7 51.6l2.5 4.8h-5.0zM201.1 51.6l2.5 4.8h-5.0zM201.4 51.6l2.5 4.8h-5.0zM201.8 51.6l2.5 4.8h-5.0zM202.1 51.6l2.5 4.8h-5.0zM202.5 51.6l2.5 4.8h-5.0zM202.8 51.6l2.5 4.8h-5.0zM203.2 51.6l2.5 4.8h-5.0zM203.5 51.6l2.5 4.8h-5.0zM203.9 51.6l2.5 4.8h-5.0zM204.2 51.6l2.5 4.8h-5.0zM204.6 51.6l2.5 4.8h-5.0zM204.9 51.6l2.5 4.8h-5.0zM205.3 51.6l2.5 4.8h-5.0zM205.6 51.6l2.5 4.8h-5.0zM206.0 51.6l2.5 4.8h-5.0zM206.3 51.6l2.5 4.8h-5.0zM206.7 51.6l2.5 4.8h-5.0zM207.0 51.7l2.5 4.8h-5.0zM207.4 51.7l2.5 4.8h-5.0zM207.7 51.7l2.5 4.8h-5.0zM208.1 51.7l2.5 4.8h-5.0zM208.4 51.7l2.5 4.8h-5.0zM208.8 51.7l2.5 4.8h-5.0zM209.1 51.7l2.5 4.8h-5.0zM209.5 51.7l2.5 4.8h-5.0zM209.8 51.7l2.5 4.8h-5.0zM210.2 51.7l2.5 4.8h-5.0zM210.5 51.7l2.5 4.8h-5.0zM210.9 51.7l2.5 4.8h-5.0zM211.2 51.7l2.5 4.8h-5.0zM211.6 51.7l2.5 4.8h-5.0zM211.9 51.7l2.5 4.8h-5.0zM212.3 51.7l2.5 4.8h-5.0zM212.6 51.7l2.5 4.8h-5.0zM213.0 51.8l2.5 4.8h-5.0zM213.3 51.8l2.5 4.8h-5.0zM213.6 51.8l2.5 4.8h-5.0zM214.0 51.8l2.5 4.8h-5.0zM214.3 51.8l2.5 4.8h-5.0zM214.7 51.8l2.5 4.8h-5.0zM215.0 51.8l2.5 4.8h-5.0zM215.4 51.8l2.5 4.8h-5.0zM215.7 51.8l2.5 4.8h-5.0zM216.1 51.8l2.5 4.8h-5.0zM216.4 51.8l2.5 4.8h-5.0zM216.8 51.9l2.5 4.8h-5.0zM217.1 51.9l2.5 4.8h-5.0zM217.5 51.9l2.5 4.8h-5.0zM217.8 51.9l2.5 4.8h-5.0zM218.2 51.9l2.5 4.8h-5.0zM218.5 51.9l2.5 4.8h-5.0zM218.9 51.9l2.5 4.8h-5.0zM219.2 52.0l2.5 4.8h-5.0zM219.6 52.0l2.5 4.8h-5.0zM219.9 52.0l2.5 4.8h-5.0zM220.3 52.0l2.5 4.8h-5.0zM220.6 52.0l2.5 4.8h-5.0zM221.0 52.1l2.5 4.8h-5.0zM221.3 52.1l2.5 4.8h-5.0zM221.7 52.1l2.5 4.8h-5.0zM222.0 52.1l2.5 4.8h-5.0zM222.4 52.1l2.5 4.8h-5.0zM222.7 52.2l2.5 4.8h-5.0zM223.1 52.2l2.5 4.8h-5.0zM223.4 52.2l2.5 4.8h-5.0zM223.8 52.2l2.5 4.8h-5.0zM224.1 52.3l2.5 4.8h-5.0zM224.5 52.3l2.5 4.8h-5.0zM224.8 52.3l2.5 4.8h-5.0zM225.2 52.4l2.5 4.8h-5.0zM225.5 52.4l2.5 4.8h-5.0zM225.9 52.4l2.5 4.8h-5.0zM226.2 52.4l2.5 4.8h-5.0zM226.6 52.5l2.5 4.8h-5.0zM226.9 52.5l2.5 4.8h-5.0zM227.3 52.5l2.5 4.8h-5.0zM227.6 52.6l2.5 4.8h-5.0zM228.0 52.6l2.5 4.8h-5.0zM228.3 52.6l2.5 4.8h-5.0zM228.7 52.7l2.5 4.8h-5.0zM229.0 52.7l2.5 4.8h-5.0zM229.4 52.7l2.5 4.8h-5.0zM229.7 52.8l2.5 4.8h-5.0zM230.1 52.8l2.5 4.8h-5.0zM230.4 52.9l2.5 4.8h-5.0zM230.8 52.9l2.5 4.8h-5.0zM231.2 52.9l2.5 4.8h-5.0zM231.5 53.0l2.5 4.8h-5.0zM231.9 53.0l2.5 4.8h-5.0zM232.2 53.1l2.5 4.8h-5.0zM232.6 53.1l2.5 4.8h-5.0zM232.9 53.2l2.5 4.8h-5.0zM233.3 53.2l2.5 4.8h-5.0zM233.6 53.3l2.5 4.8h-5.0zM234.0 53.4l2.5 4.8h-5.0zM234.3 53.4l2.5 4.8h-5.0zM234.7 53.5l2.5 4.8h-5.0zM235.0 53.6l2.5 4.8h-5.0zM235.4 53.6l2.5 4.8h-5.0zM235.7 53.7l2.5 4.8h-5.0zM236.0 53.8l2.5 4.8h-5.0zM236.4 53.9l2.5 4.8h-5.0zM236.7 53.9l2.5 4.8h-5.0zM237.0 54.0l2.5 4.8h-5.0zM237.3 54.1l2.5 4.8h-5.0zM237.6 54.2l2.5 4.8h-5.0zM237.9 54.3l2.5 4.8h-5.0zM238.3 54.4l2.5 4.8h-5.0zM238.6 54.6l2.5 4.8h-5.0zM238.9 54.7l2.5 4.8h-5.0zM239.2 54.9l2.5 4.8h-5.0zM239.5 55.1l2.5 4.8h-5.0zM239.8 55.3l2.5 4.8h-5.0zM240.1 55.5l2.5 4.8h-5.0zM240.4 55.7l2.5 4.8h-5.0zM240.7 55.9l2.5 4.8h-5.0zM241.0 56.1l2.5 4.8h-5.0zM241.2 56.4l2.5 4.8h-5.0zM241.5 56.6l2.5 4.8h-5.0zM241.8 56.9l2.5 4.8h-5.0zM242.1 57.1l2.5 4.8h-5.0zM242.4 57.4l2.5 4.8h-5.0zM242.7 57.7l2.5 4.8h-5.0zM243.0 57.9l2.5 4.8h-5.0zM243.3 58.2l2.5 4.8h-5.0zM243.6 58.5l2.5 4.8h-5.0zM243.9 58.7l2.5 4.8h-5.0zM244.3 59.0l2.5 4.8h-5.0zM244.6 59.4l2.5 4.8h-5.0zM244.9 59.7l2.5 4.8h-5.0zM245.2 60.0l2.5 4.8h-5.0zM245.5 60.4l2.5 4.8h-5.0zM245.8 60.7l2.5 4.8h-5.0zM246.1 61.1l2.5 4.8h-5.0zM246.4 61.5l2.5 4.8h-5.0zM246.7 61.9l2.5 4.8h-5.0zM246.9 62.3l2.5 4.8h-5.0zM247.2 62.7l2.5 4.8h-5.0zM247.4 63.1l2.5 4.8h-5.0zM247.6 63.6l2.5 4.8h-5.0zM247.8 64.1l2.5 4.8h-5.0zM248.0 64.6l2.5 4.8h-5.0zM248.3 65.1l2.5 4.8h-5.0zM248.5 65.6l2.5 4.8h-5.0zM248.7 66.1l2.5 4.8h-5.0zM248.8 66.7l2.5 4.8h-5.0zM249.0 67.2l2.5 4.8h-5.0zM249.2 67.8l2.5 4.8h-5.0zM249.4 68.4l2.5 4.8h-5.0zM249.6 69.0l2.5 4.8h-5.0zM249.8 69.6l2.5 4.8h-5.0zM250.0 70.2l2.5 4.8h-5.0zM250.2 70.9l2.5 4.8h-5.0zM250.3 71.5l2.5 4.8h-5.0zM250.5 72.2l2.5 4.8h-5.0zM250.7 72.8l2.5 4.8h-5.0zM250.8 73.5l2.5 4.8h-5.0zM251.0 74.2l2.5 4.8h-5.0zM251.2 74.9l2.5 4.8h-5.0zM251.3 75.6l2.5 4.8h-5.0zM251.5 76.4l2.5 4.8h-5.0zM251.7 77.1l2.5 4.8h-5.0zM251.8 77.9l2.5 4.8h-5.0zM252.0 78.6l2.5 4.8h-5.0zM252.2 79.4l2.5 4.8h-5.0zM252.4 80.1l2.5 4.8h-5.0zM252.7 80.9l2.5 4.8h-5.0zM252.9 81.7l2.5 4.8h-5.0zM253.2 82.5l2.5 4.8h-5.0zM253.4 83.3l2.5 4.8h-5.0zM253.7 84.2l2.5 4.8h-5.0zM254.0 85.0l2.5 4.8h-5.0zM254.2 85.9l2.5 4.8h-5.0zM254.4 86.7l2.5 4.8h-5.0zM254.6 87.6l2.5 4.8h-5.0zM254.8 88.5l2.5 4.8h-5.0zM254.9 89.4l2.5 4.8h-5.0zM255.0 90.4l2.5 4.8h-5.0zM255.2 91.3l2.5 4.8h-5.0zM255.3 92.3l2.5 4.8h-5.0zM255.4 93.3l2.5 4.8h-5.0zM255.5 94.3l2.5 4.8h-5.0zM255.6 95.4l2.5 4.8h-5.0zM255.7 96.6l2.5 4.8h-5.0zM255.8 97.8l2.5 4.8h-5.0zM255.9 99.1l2.5 4.8h-5.0zM256.0 100.5l2.5 4.8h-5.0zM256.1 102.0l2.5 4.8h-5.0zM256.3 103.5l2.5 4.8h-5.0zM256.4 105.2l2.5 4.8h-5.0zM256.5 106.9l2.5 4.8h-5.0zM256.7 108.7l2.5 4.8h-5.0zM256.9 110.6l2.5 4.8h-5.0zM257.0 112.6l2.5 4.8h-5.0zM257.2 114.7l2.5 4.8h-5.0zM257.4 116.9l2.5 4.8h-5.0zM257.6 119.1l2.5 4.8h-5.0zM257.8 121.4l2.5 4.8h-5.0zM258.0 123.8l2.5 4.8h-5.0zM258.2 126.3l2.5 4.8h-5.0zM258.4 128.8l2.5 4.8h-5.0zM258.7 131.6l2.5 4.8h-5.0zM259.0 134.7l2.5 4.8h-5.0zM259.4 138.9l2.5 4.8h-5.0zM259.7 142.1l2.5 4.8h-5.0zM260.1 146.3l2.5 4.8h-5.0zM260.4 150.9l2.5 4.8h-5.0zM260.7 154.1l2.5 4.8h-5.0zM261.0 158.5l2.5 4.8h-5.0zM261.3 163.4l2.5 4.8h-5.0zM261.5 166.9l2.5 4.8h-5.0zM261.7 172.1l2.5 4.8h-5.0zM262.0 178.7l2.5 4.8h-5.0zM262.1 183.6l2.5 4.8h-5.0zM262.3 190.4l2.5 4.8h-5.0zM262.6 198.2l2.5 4.8h-5.0zM262.8 203.5l2.5 4.8h-5.0zM263.0 210.3l2.5 4.8h-5.0zM263.3 217.6l2.5 4.8h-5.0zM263.5 222.7l2.5 4.8h-5.0zM263.7 229.6l2.5 4.8h-5.0zM264.0 237.3l2.5 4.8h-5.0zM264.2 242.4l2.5 4.8h-5.0zM264.5 249.1l2.5 4.8h-5.0zM264.7 256.3l2.5 4.8h-5.0zM264.9 261.2l2.5 4.8h-5.0zM265.1 267.8l2.5 4.8h-5.0zM265.3 274.2l2.5 4.8h-5.0zM265.4 277.9l2.5 4.8h-5.0zM265.5 282.2l2.5 4.8h-5.0zM265.6 286.1l2.5 4.8h-5.0zM265.6 288.9l2.5 4.8h-5.0zM265.7 291.5l2.5 4.8h-5.0zM265.7 293.8l2.5 4.8h-5.0zM265.7 295.9l2.5 4.8h-5.0zM265.8 297.9l2.5 4.8h-5.0zM265.8 299.8l2.5 4.8h-5.0zM265.8 301.6l2.5 4.8h-5.0zM265.9 303.3l2.5 4.8h-5.0zM265.9 304.9l2.5 4.8h-5.0zM266.0 306.5l2.5 4.8h-5.0zM266.0 307.9l2.5 4.8h-5.0zM266.1 309.3l2.5 4.8h-5.0zM266.1 310.6l2.5 4.8h-5.0zM266.2 311.8l2.5 4.8h-5.0zM266.3 312.9l2.5 4.8h-5.0zM266.4 313.9l2.5 4.8h-5.0zM266.5 314.8l2.5 4.8h-5.0zM266.6 315.7l2.5 4.8h-5.0zM266.8 316.5l2.5 4.8h-5.0zM266.9 317.3l2.5 4.8h-5.0zM267.1 318.0l2.5 4.8h-5.0zM267.3 318.7l2.5 4.8h-5.0zM267.5 319.2l2.5 4.8h-5.0zM267.7 319.7l2.5 4.8h-5.0zM267.9 320.0l2.5 4.8h-5.0zM268.1 320.3l2.5 4.8h-5.0zM268.4 320.6l2.5 4.8h-5.0zM268.8 320.8l2.5 4.8h-5.0zM269.1 321.0l2.5 4.8h-5.0zM269.5 321.2l2.5 4.8h-5.0zM269.9 321.4l2.5 4.8h-5.0zM270.3 321.5l2.5 4.8h-5.0zM270.7 321.6l2.5 4.8h-5.0zM271.0 321.6l2.5 4.8h-5.0zM271.4 321.6l2.5 4.8h-5.0zM271.7 321.6l2.5 4.8h-5.0zM272.0 321.6l2.5 4.8h-5.0zM272.4 321.7l2.5 4.8h-5.0zM272.7 321.7l2.5 4.8h-5.0zM273.1 321.7l2.5 4.8h-5.0zM273.4 321.7l2.5 4.8h-5.0zM273.8 321.7l2.5 4.8h-5.0zM274.1 321.7l2.5 4.8h-5.0zM274.5 321.7l2.5 4.8h-5.0zM274.8 321.7l2.5 4.8h-5.0zM275.2 321.7l2.5 4.8h-5.0zM275.5 321.8l2.5 4.8h-5.0zM275.9 321.8l2.5 4.8h-5.0zM276.2 321.8l2.5 4.8h-5.0zM276.6 321.8l2.5 4.8h-5.0zM276.9 321.8l2.5 4.8h-5.0zM277.3 321.8l2.5 4.8h-5.0zM277.7 321.8l2.5 4.8h-5.0zM278.0 321.8l2.5 4.8h-5.0zM278.4 321.8l2.5 4.8h-5.0zM278.7 321.8l2.5 4.8h-5.0zM279.1 321.8l2.5 4.8h-5.0zM279.4 321.8l2.5 4.8h-5.0zM279.8 321.8l2.5 4.8h-5.0zM280.1 321.8l2.5 4.8h-5.0zM280.5 321.8l2.5 4.8h-5.0zM280.8 321.8l2.5 4.8h-5.0zM281.2 321.8l2.5 4.8h-5.0zM281.5 321.8l2.5 4.8h-5.0zM281.9 321.8l2.5 4.8h-5.0zM282.2 321.8l2.5 4.8h-5.0zM282.6 321.8l2.5 4.8h-5.0zM282.9 321.8l2.5 4.8h-5.0zM283.3 321.8l2.5 4.8h-5.0zM283.6 321.8l2.5 4.8h-5.0zM284.0 321.8l2.5 4.8h-5.0zM284.3 321.8l2.5 4.8h-5.0zM284.7 321.8l2.5 4.8h-5.0zM285.0 321.8l2.5 4.8h-5.0zM285.4 321.8l2.5 4.8h-5.0zM285.7 321.8l2.5 4.8h-5.0zM286.1 321.8l2.5 4.8h-5.0zM286.4 321.8l2.5 4.8h-5.0zM286.8 321.8l2.5 4.8h-5.0zM287.1 321.8l2.5 4.8h-5.0zM287.5 321.8l2.5 4.8h-5.0zM287.8 321.8l2.5 4.8h-5.0zM288.2 321.8l2.5 4.8h-5.0zM288.5 321.8l2.5 4.8h-5.0zM288.9 321.8l2.5 4.8h-5.0zM289.2 321.8l2.5 4.8h-5.0zM289.6 321.8l2.5 4.8h-5.0zM289.9 321.8l2.5 4.8h-5.0zM290.3 321.8l2.5 4.8h-5.0zM290.6 321.8l2.5 4.8h-5.0zM291.0 321.8l2.5 4.8h-5.0zM291.3 321.9l2.5 4.8h-5.0zM291.7 321.9l2.5 4.8h-5.0zM292.0 321.9l2.5 4.8h-5.0zM292.4 321.9l2.5 4.8h-5.0zM292.7 321.9l2.5 4.8h-5.0zM293.1 321.9l2.5 4.8h-5.0zM293.4 321.9l2.5 4.8h-5.0zM293.8 321.9l2.5 4.8h-5.0zM294.1 321.9l2.5 4.8h-5.0zM294.5 321.9l2.5 4.8h-5.0zM294.8 321.9l2.5 4.8h-5.0zM295.2 321.9l2.5 4.8h-5.0zM295.5 321.9l2.5 4.8h-5.0zM295.9 321.9l2.5 4.8h-5.0zM296.2 321.9l2.5 4.8h-5.0zM296.6 321.9l2.5 4.8h-5.0zM296.9 321.9l2.5 4.8h-5.0zM297.3 321.9l2.5 4.8h-5.0zM297.6 321.9l2.5 4.8h-5.0zM298.0 321.9l2.5 4.8h-5.0zM298.3 321.9l2.5 4.8h-5.0zM298.7 321.9l2.5 4.8h-5.0zM299.0 321.9l2.5 4.8h-5.0zM299.4 321.9l2.5 4.8h-5.0zM299.7 321.9l2.5 4.8h-5.0zM300.1 321.9l2.5 4.8h-5.0zM300.4 321.9l2.5 4.8h-5.0zM300.8 321.9l2.5 4.8h-5.0zM301.1 321.9l2.5 4.8h-5.0zM301.5 321.9l2.5 4.8h-5.0zM301.8 321.9l2.5 4.8h-5.0zM302.2 321.9l2.5 4.8h-5.0zM302.5 321.9l2.5 4.8h-5.0zM302.9 321.9l2.5 4.8h-5.0zM303.2 321.9l2.5 4.8h-5.0zM303.6 321.9l2.5 4.8h-5.0zM303.9 321.9l2.5 4.8h-5.0zM304.3 321.9l2.5 4.8h-5.0zM304.6 321.9l2.5 4.8h-5.0zM305.0 321.9l2.5 4.8h-5.0zM305.3 321.9l2.5 4.8h-5.0zM305.7 321.9l2.5 4.8h-5.0zM306.0 321.9l2.5 4.8h-5.0zM306.4 321.9l2.5 4.8h-5.0zM306.7 321.9l2.5 4.8h-5.0zM307.1 321.9l2.5 4.8h-5.0zM307.4 321.9l2.5 4.8h-5.0zM307.8 321.9l2.5 4.8h-5.0zM308.1 321.9l2.5 4.8h-5.0zM308.5 321.9l2.5 4.8h-5.0zM308.8 321.9l2.5 4.8h-5.0zM309.2 321.9l2.5 4.8h-5.0zM309.5 321.9l2.5 4.8h-5.0zM309.9 321.9l2.5 4.8h-5.0zM310.2 321.9l2.5 4.8h-5.0zM310.6 321.9l2.5 4.8h-5.0zM310.9 321.9l2.5 4.8h-5.0zM311.3 321.9l2.5 4.8h-5.0zM311.6 321.9l2.5 4.8h-5.0zM312.0 321.9l2.5 4.8h-5.0zM312.3 321.9l2.5 4.8h-5.0zM312.7 321.9l2.5 4.8h-5.0zM313.0 321.9l2.5 4.8h-5.0zM313.4 321.9l2.5 4.8h-5.0zM313.7 321.9l2.5 4.8h-5.0zM314.1 321.9l2.5 4.8h-5.0zM314.4 321.9l2.5 4.8h-5.0zM314.8 321.9l2.5 4.8h-5.0zM315.1 321.9l2.5 4.8h-5.0zM315.5 321.9l2.5 4.8h-5.0zM315.8 321.9l2.5 4.8h-5.0zM316.2 321.9l2.5 4.8h-5.0zM316.5 321.9l2.5 4.8h-5.0zM316.9 321.9l2.5 4.8h-5.0zM317.2 321.9l2.5 4.8h-5.0zM317.6 321.9l2.5 4.8h-5.0zM320.2 321.9l2.5 4.8h-5.0z" fill="none" stroke="#0f0" stroke-width="0.9"/>
<path d="M320.2 322.1l2.5 4.8h-5.0z" fill="#fff" stroke="#0f0" stroke-width="0.9"/>
<path d="M143.4 55.0L242.4 55.3L246.9 55.7L248.4 56.1L250.1 57.1L251.2 58.1L252.4 59.7L253.7 62.3L254.9 65.8L255.7 69.3L256.6 76.1L257.9 89.5L260.2 121.9L261.1 138.6L262.3 171.2L265.8 294.8L266.3 315.7L266.5 318.6L266.9 320.5L267.4 321.5L268.0 322.1L269.1 322.6L270.7 322.7L311.3 322.8L319.9 322.8L320.8 322.8" fill="none" stroke="#00f" stroke-width="2" stroke-linejoin="round"/>
<!-- 6 C/min -->
<path d="M141.3 54.4l2.6 -2.6l2.6 2.6l-2.6 2.6zM141.7 54.4l2.6 -2.6l2.6 2.6l-2.6 2.6zM142.1 54.4l2.6 -2.6l2.6 2.6l-2.6 2.6zM142.4 54.4l2.6 -2.6l2.6 2.6l-2.6 2.6zM142.8 54.4l2.6 -2.6l2.6 2.6l-2.6 2.6zM143.1 54.4l2.6 -2.6l2.6 2.6l-2.6 2.6zM143.5 54.4l2.6 -2.6l2.6 2.6l-2.6 2.6zM143.8 54.4l2.6 -2.6l2.6 2.6l-2.6 2.6zM144.2 54.4l2.6 -2.6l2.6 2.6l-2.6 2.6zM144.5 54.4l2.6 -2.6l2.6 2.6l-2.6 2.6zM144.9 54.4l2.6 -2.6l2.6 2.6l-2.6 2.6zM145.2 54.4l2.6 -2.6l2.6 2.6l-2.6 2.6zM145.6 54.4l2.6 -2.6l2.6 2.6l-2.6 2.6zM145.9 54.4l2.6 -2.6l2.6 2.6l-2.6 2.6zM146.3 54.4l2.6 -2.6l2.6 2.6l-2.6 2.6zM146.6 54.4l2.6 -2.6l2.6 2.6l-2.6 2.6zM147.0 54.4l2.6 -2.6l2.6 2.6l-2.6 2.6zM147.3 54.4l2.6 -2.6l2.6 2.6l-2.6 2.6zM147.7 54.4l2.6 -2.6l2.6 2.6l-2.6 2.6zM148.0 54.4l2.6 -2.6l2.6 2.6l-2.6 2.6zM148.4 54.4l2.6 -2.6l2.6 2.6l-2.6 2.6zM148.7 54.4l2.6 -2.6l2.6 2.6l-2.6 2.6zM149.1 54.4l2.6 -2.6l2.6 2.6l-2.6 2.6zM149.4 54.4l2.6 -2.6l2.6 2.6l-2.6 2.6zM149.8 54.4l2.6 -2.6l2.6 2.6l-2.6 2.6zM150.1 54.4l2.6 -2.6l2.6 2.6l-2.6 2.6zM150.5 54.4l2.6 -2.6l2.6 2.6l-2.6 2.6zM150.8 54.4l2.6 -2.6l2.6 2.6l-2.6 2.6zM151.2 54.4l2.6 -2.6l2.6 2.6l-2.6 2.6zM151.5 54.4l2.6 -2.6l2.6 2.6l-2.6 2.6zM151.9 54.4l2.6 -2.6l2.6 2.6l-2.6 2.6zM152.2 54.4l2.6 -2.6l2.6 2.6l-2.6 2.6zM152.6 54.4l2.6 -2.6l2.6 2.6l-2.6 2.6zM152.9 54.4l2.6 -2.6l2.6 2.6l-2.6 2.6zM153.3 54.4l2.6 -2.6l2.6 2.6l-2.6 2.6zM153.6 54.4l2.6 -2.6l2.6 2.6l-2.6 2.6zM154.0 54.4l2.6 -2.6l2.6 2.6l-2.6 2.6zM154.3 54.4l2.6 -2.6l2.6 2.6l-2.6 2.6zM154.7 54.4l2.6 -2.6l2.6 2.6l-2.6 2.6zM155.0 54.4l2.6 -2.6l2.6 2.6l-2.6 2.6zM155.4 54.4l2.6 -2.6l2.6 2.6l-2.6 2.6zM155.7 54.4l2.6 -2.6l2.6 2.6l-2.6 2.6zM156.1 54.4l2.6 -2.6l2.6 2.6l-2.6 2.6zM156.4 54.4l2.6 -2.6l2.6 2.6l-2.6 2.6zM156.8 54.4l2.6 -2.6l2.6 2.6l-2.6 2.6zM157.1 54.4l2.6 -2.6l2.6 2.6l-2.6 2.6zM157.5 54.4l2.6 -2.6l2.6 2.6l-2.6 2.6zM157.8 54.4l2.6 -2.6l2.6 2.6l-2.6 2.6zM158.2 54.4l2.6 -2.6l2.6 2.6l-2.6 2.6zM158.5 54.4l2.6 -2.6l2.6 2.6l-2.6 2.6zM158.9 54.4l2.6 -2.6l2.6 2.6l-2.6 2.6zM159.2 54.4l2.6 -2.6l2.6 2.6l-2.6 2.6zM159.6 54.4l2.6 -2.6l2.6 2.6l-2.6 2.6zM159.9 54.4l2.6 -2.6l2.6 2.6l-2.6 2.6zM160.3 54.4l2.6 -2.6l2.6 2.6l-2.6 2.6zM160.6 54.4l2.6 -2.6l2.6 2.6l-2.6 2.6zM161.0 54.4l2.6 -2.6l2.6 2.6l-2.6 2.6zM161.3 54.4l2.6 -2.6l2.6 2.6l-2.6 2.6zM161.7 54.4l2.6 -2.6l2.6 2.6l-2.6 2.6zM162.0 54.4l2.6 -2.6l2.6 2.6l-2.6 2.6zM162.4 54.4l2.6 -2.6l2.6 2.6l-2.6 2.6zM162.7 54.4l2.6 -2.6l2.6 2.6l-2.6 2.6zM163.1 54.4l2.6 -2.6l2.6 2.6l-2.6 2.6zM163.4 54.4l2.6 -2.6l2.6 2.6l-2.6 2.6zM163.8 54.4l2.6 -2.6l2.6 2.6l-2.6 2.6zM164.1 54.4l2.6 -2.6l2.6 2.6l-2.6 2.6zM164.5 54.4l2.6 -2.6l2.6 2.6l-2.6 2.6zM164.8 54.4l2.6 -2.6l2.6 2.6l-2.6 2.6zM165.2 54.4l2.6 -2.6l2.6 2.6l-2.6 2.6zM165.5 54.4l2.6 -2.6l2.6 2.6l-2.6 2.6zM165.9 54.4l2.6 -2.6l2.6 2.6l-2.6 2.6zM166.2 54.4l2.6 -2.6l2.6 2.6l-2.6 2.6zM166.6 54.4l2.6 -2.6l2.6 2.6l-2.6 2.6zM166.9 54.4l2.6 -2.6l2.6 2.6l-2.6 2.6zM167.3 54.4l2.6 -2.6l2.6 2.6l-2.6 2.6zM167.6 54.4l2.6 -2.6l2.6 2.6l-2.6 2.6zM168.0 54.4l2.6 -2.6l2.6 2.6l-2.6 2.6zM168.3 54.4l2.6 -2.6l2.6 2.6l-2.6 2.6zM168.7 54.4l2.6 -2.6l2.6 2.6l-2.6 2.6zM169.0 54.4l2.6 -2.6l2.6 2.6l-2.6 2.6zM169.4 54.4l2.6 -2.6l2.6 2.6l-2.6 2.6zM169.7 54.4l2.6 -2.6l2.6 2.6l-2.6 2.6zM170.1 54.4l2.6 -2.6l2.6 2.6l-2.6 2.6zM170.4 54.4l2.6 -2.6l2.6 2.6l-2.6 2.6zM170.8 54.4l2.6 -2.6l2.6 2.6l-2.6 2.6zM171.1 54.4l2.6 -2.6l2.6 2.6l-2.6 2.6zM171.5 54.4l2.6 -2.6l2.6 2.6l-2.6 2.6zM171.8 54.4l2.6 -2.6l2.6 2.6l-2.6 2.6zM172.2 54.4l2.6 -2.6l2.6 2.6l-2.6 2.6zM172.5 54.4l2.6 -2.6l2.6 2.6l-2.6 2.6zM172.8 54.4l2.6 -2.6l2.6 2.6l-2.6 2.6zM173.2 54.4l2.6 -2.6l2.6 2.6l-2.6 2.6zM173.6 54.4l2.6 -2.6l2.6 2.6l-2.6 2.6zM173.9 54.4l2.6 -2.6l2.6 2.6l-2.6 2.6zM174.3 54.4l2.6 -2.6l2.6 2.6l-2.6 2.6zM174.6 54.4l2.6 -2.6l2.6 2.6l-2.6 2.6zM175.0 54.4l2.6 -2.6l2.6 2.6l-2.6 2.6zM175.3 54.4l2.6 -2.6l2.6 2.6l-2.6 2.6zM175.7 54.4l2.6 -2.6l2.6 2.6l-2.6 2.6zM176.0 54.4l2.6 -2.6l2.6 2.6l-2.6 2.6zM176.4 54.4l2.6 -2.6l2.6 2.6l-2.6 2.6zM176.7 54.4l2.6 -2.6l2.6 2.6l-2.6 2.6zM177.1 54.4l2.6 -2.6l2.6 2.6l-2.6 2.6zM177.4 54.4l2.6 -2.6l2.6 2.6l-2.6 2.6zM177.8 54.4l2.6 -2.6l2.6 2.6l-2.6 2.6zM178.1 54.5l2.6 -2.6l2.6 2.6l-2.6 2.6zM178.5 54.5l2.6 -2.6l2.6 2.6l-2.6 2.6zM178.8 54.5l2.6 -2.6l2.6 2.6l-2.6 2.6zM179.2 54.5l2.6 -2.6l2.6 2.6l-2.6 2.6zM179.5 54.5l2.6 -2.6l2.6 2.6l-2.6 2.6zM179.9 54.5l2.6 -2.6l2.6 2.6l-2.6 2.6zM180.2 54.5l2.6 -2.6l2.6 2.6l-2.6 2.6zM180.6 54.5l2.6 -2.6l2.6 2.6l-2.6 2.6zM180.9 54.5l2.6 -2.6l2.6 2.6l-2.6 2.6zM181.3 54.5l2.6 -2.6l2.6 2.6l-2.6 2.6zM181.6 54.5l2.6 -2.6l2.6 2.6l-2.6 2.6zM182.0 54.5l2.6 -2.6l2.6 2.6l-2.6 2.6zM182.3 54.5l2.6 -2.6l2.6 2.6l-2.6 2.6zM182.7 54.6l2.6 -2.6l2.6 2.6l-2.6 2.6zM183.0 54.6l2.6 -2.6l2.6 2.6l-2.6 2.6zM183.4 54.6l2.6 -2.6l2.6 2.6l-2.6 2.6zM183.7 54.6l2.6 -2.6l2.6 2.6l-2.6 2.6zM184.1 54.6l2.6 -2.6l2.6 2.6l-2.6 2.6zM184.4 54.6l2.6 -2.6l2.6 2.6l-2.6 2.6zM184.8 54.6l2.6 -2.6l2.6 2.6l-2.6 2.6zM185.1 54.6l2.6 -2.6l2.6 2.6l-2.6 2.6zM185.5 54.6l2.6 -2.6l2.6 2.6l-2.6 2.6zM185.8 54.6l2.6 -2.6l2.6 2.6l-2.6 2.6zM186.1 54.7l2.6 -2.6l2.6 2.6l-2.6 2.6zM186.5 54.7l2.6 -2.6l2.6 2.6l-2.6 2.6zM186.8 54.7l2.6 -2.6l2.6 2.6l-2.6 2.6zM187.2 54.7l2.6 -2.6l2.6 2.6l-2.6 2.6zM187.5 54.7l2.6 -2.6l2.6 2.6l-2.6 2.6zM187.9 54.7l2.6 -2.6l2.6 2.6l-2.6 2.6zM188.2 54.7l2.6 -2.6l2.6 2.6l-2.6 2.6zM188.6 54.8l2.6 -2.6l2.6 2.6l-2.6 2.6zM189.0 54.8l2.6 -2.6l2.6 2.6l-2.6 2.6zM189.3 54.8l2.6 -2.6l2.6 2.6l-2.6 2.6zM189.7 54.8l2.6 -2.6l2.6 2.6l-2.6 2.6zM190.0 54.8l2.6 -2.6l2.6 2.6l-2.6 2.6zM190.4 54.9l2.6 -2.6l2.6 2.6l-2.6 2.6zM190.7 54.9l2.6 -2.6l2.6 2.6l-2.6 2.6zM191.1 54.9l2.6 -2.6l2.6 2.6l-2.6 2.6zM191.4 54.9l2.6 -2.6l2.6 2.6l-2.6 2.6zM191.8 55.0l2.6 -2.6l2.6 2.6l-2.6 2.6zM192.1 55.0l2.6 -2.6l2.6 2.6l-2.6 2.6zM192.5 55.0l2.6 -2.6l2.6 2.6l-2.6 2.6zM192.8 55.0l2.6 -2.6l2.6 2.6l-2.6 2.6zM193.2 55.1l2.6 -2.6l2.6 2.6l-2.6 2.6zM193.5 55.1l2.6 -2.6l2.6 2.6l-2.6 2.6zM193.9 55.2l2.6 -2.6l2.6 2.6l-2.6 2.6zM194.2 55.2l2.6 -2.6l2.6 2.6l-2.6 2.6zM194.6 55.2l2.6 -2.6l2.6 2.6l-2.6 2.6zM194.9 55.3l2.6 -2.6l2.6 2.6l-2.6 2.6zM195.3 55.3l2.6 -2.6l2.6 2.6l-2.6 2.6zM195.6 55.4l2.6 -2.6l2.6 2.6l-2.6 2.6zM196.0 55.4l2.6 -2.6l2.6 2.6l-2.6 2.6zM196.3 55.4l2.6 -2.6l2.6 2.6l-2.6 2.6zM196.7 55.5l2.6 -2.6l2.6 2.6l-2.6 2.6zM197.0 55.5l2.6 -2.6l2.6 2.6l-2.6 2.6zM197.4 55.6l2.6 -2.6l2.6 2.6l-2.6 2.6zM197.7 55.7l2.6 -2.6l2.6 2.6l-2.6 2.6zM198.0 55.7l2.6 -2.6l2.6 2.6l-2.6 2.6zM198.4 55.8l2.6 -2.6l2.6 2.6l-2.6 2.6zM198.7 55.8l2.6 -2.6l2.6 2.6l-2.6 2.6zM199.0 55.9l2.6 -2.6l2.6 2.6l-2.6 2.6zM199.4 55.9l2.6 -2.6l2.6 2.6l-2.6 2.6zM199.7 56.0l2.6 -2.6l2.6 2.6l-2.6 2.6zM200.0 56.1l2.6 -2.6l2.6 2.6l-2.6 2.6zM200.4 56.2l2.6 -2.6l2.6 2.6l-2.6 2.6zM200.7 56.3l2.6 -2.6l2.6 2.6l-2.6 2.6zM201.1 56.4l2.6 -2.6l2.6 2.6l-2.6 2.6zM201.4 56.6l2.6 -2.6l2.6 2.6l-2.6 2.6zM201.7 56.7l2.6 -2.6l2.6 2.6l-2.6 2.6zM202.1 56.9l2.6 -2.6l2.6 2.6l-2.6 2.6zM202.4 57.0l2.6 -2.6l2.6 2.6l-2.6 2.6zM202.7 57.2l2.6 -2.6l2.6 2.6l-2.6 2.6zM203.0 57.3l2.6 -2.6l2.6 2.6l-2.6 2.6zM203.3 57.5l2.6 -2.6l2.6 2.6l-2.6 2.6zM203.6 57.7l2.6 -2.6l2.6 2.6l-2.6 2.6zM203.9 57.9l2.6 -2.6l2.6 2.6l-2.6 2.6zM204.2 58.1l2.6 -2.6l2.6 2.6l-2.6 2.6zM204.5 58.2l2.6 -2.6l2.6 2.6l-2.6 2.6zM204.8 58.4l2.6 -2.6l2.6 2.6l-2.6 2.6zM205.1 58.6l2.6 -2.6l2.6 2.6l-2.6 2.6zM205.4 58.9l2.6 -2.6l2.6 2.6l-2.6 2.6zM205.6 59.1l2.6 -2.6l2.6 2.6l-2.6 2.6zM205.9 59.3l2.6 -2.6l2.6 2.6l-2.6 2.6zM206.2 59.6l2.6 -2.6l2.6 2.6l-2.6 2.6zM206.5 59.9l2.6 -2.6l2.6 2.6l-2.6 2.6zM206.8 60.2l2.6 -2.6l2.6 2.6l-2.6 2.6zM207.0 60.5l2.6 -2.6l2.6 2.6l-2.6 2.6zM207.3 60.9l2.6 -2.6l2.6 2.6l-2.6 2.6zM207.6 61.2l2.6 -2.6l2.6 2.6l-2.6 2.6zM207.8 61.6l2.6 -2.6l2.6 2.6l-2.6 2.6zM208.1 61.9l2.6 -2.6l2.6 2.6l-2.6 2.6zM208.3 62.3l2.6 -2.6l2.6 2.6l-2.6 2.6zM208.5 62.7l2.6 -2.6l2.6 2.6l-2.6 2.6zM208.7 63.1l2.6 -2.6l2.6 2.6l-2.6 2.6zM208.9 63.5l2.6 -2.6l2.6 2.6l-2.6 2.6zM209.1 63.9l2.6 -2.6l2.6 2.6l-2.6 2.6zM209.3 64.3l2.6 -2.6l2.6 2.6l-2.6 2.6zM209.5 64.8l2.6 -2.6l2.6 2.6l-2.6 2.6zM209.7 65.3l2.6 -2.6l2.6 2.6l-2.6 2.6zM209.9 65.8l2.6 -2.6l2.6 2.6l-2.6 2.6zM210.1 66.3l2.6 -2.6l2.6 2.6l-2.6 2.6zM210.3 66.8l2.6 -2.6l2.6 2.6l-2.6 2.6zM210.4 67.3l2.6 -2.6l2.6 2.6l-2.6 2.6zM210.6 67.8l2.6 -2.6l2.6 2.6l-2.6 2.6zM210.8 68.4l2.6 -2.6l2.6 2.6l-2.6 2.6zM211.0 68.9l2.6 -2.6l2.6 2.6l-2.6 2.6zM211.1 69.5l2.6 -2.6l2.6 2.6l-2.6 2.6zM211.3 70.0l2.6 -2.6l2.6 2.6l-2.6 2.6zM211.5 70.6l2.6 -2.6l2.6 2.6l-2.6 2.6zM211.7 71.2l2.6 -2.6l2.6 2.6l-2.6 2.6zM211.8 71.8l2.6 -2.6l2.6 2.6l-2.6 2.6zM212.0 72.4l2.6 -2.6l2.6 2.6l-2.6 2.6zM212.2 73.1l2.6 -2.6l2.6 2.6l-2.6 2.6zM212.3 73.7l2.6 -2.6l2.6 2.6l-2.6 2.6zM212.5 74.4l2.6 -2.6l2.6 2.6l-2.6 2.6zM212.7 75.0l2.6 -2.6l2.6 2.6l-2.6 2.6zM212.8 75.7l2.6 -2.6l2.6 2.6l-2.6 2.6zM213.0 76.4l2.6 -2.6l2.6 2.6l-2.6 2.6zM213.1 77.1l2.6 -2.6l2.6 2.6l-2.6 2.6zM213.3 77.9l2.6 -2.6l2.6 2.6l-2.6 2.6zM213.4 78.6l2.6 -2.6l2.6 2.6l-2.6 2.6zM213.6 79.4l2.6 -2.6l2.6 2.6l-2.6 2.6zM213.7 80.1l2.6 -2.6l2.6 2.6l-2.6 2.6zM213.8 80.9l2.6 -2.6l2.6 2.6l-2.6 2.6zM214.0 81.7l2.6 -2.6l2.6 2.6l-2.6 2.6zM214.1 82.5l2.6 -2.6l2.6 2.6l-2.6 2.6zM214.2 83.4l2.6 -2.6l2.6 2.6l-2.6 2.6zM214.3 84.2l2.6 -2.6l2.6 2.6l-2.6 2.6zM214.5 85.1l2.6 -2.6l2.6 2.6l-2.6 2.6zM214.6 86.0l2.6 -2.6l2.6 2.6l-2.6 2.6zM214.7 86.9l2.6 -2.6l2.6 2.6l-2.6 2.6zM214.8 87.9l2.6 -2.6l2.6 2.6l-2.6 2.6zM215.0 88.8l2.6 -2.6l2.6 2.6l-2.6 2.6zM215.1 89.8l2.6 -2.6l2.6 2.6l-2.6 2.6zM215.2 90.8l2.6 -2.6l2.6 2.6l-2.6 2.6zM215.4 91.8l2.6 -2.6l2.6 2.6l-2.6 2.6zM215.5 92.9l2.6 -2.6l2.6 2.6l-2.6 2.6zM215.7 94.0l2.6 -2.6l2.6 2.6l-2.6 2.6zM215.8 95.1l2.6 -2.6l2.6 2.6l-2.6 2.6zM216.0 96.3l2.6 -2.6l2.6 2.6l-2.6 2.6zM216.2 97.6l2.6 -2.6l2.6 2.6l-2.6 2.6zM216.3 99.0l2.6 -2.6l2.6 2.6l-2.6 2.6zM216.4 100.4l2.6 -2.6l2.6 2.6l-2.6 2.6zM216.5 102.0l2.6 -2.6l2.6 2.6l-2.6 2.6zM216.6 103.7l2.6 -2.6l2.6 2.6l-2.6 2.6zM216.7 105.5l2.6 -2.6l2.6 2.6l-2.6 2.6zM216.8 107.4l2.6 -2.6l2.6 2.6l-2.6 2.6zM216.9 109.4l2.6 -2.6l2.6 2.6l-2.6 2.6zM217.0 111.5l2.6 -2.6l2.6 2.6l-2.6 2.6zM217.2 113.6l2.6 -2.6l2.6 2.6l-2.6 2.6zM217.3 115.9l2.6 -2.6l2.6 2.6l-2.6 2.6zM217.5 118.2l2.6 -2.6l2.6 2.6l-2.6 2.6zM217.7 120.6l2.6 -2.6l2.6 2.6l-2.6 2.6zM218.0 123.2l2.6 -2.6l2.6 2.6l-2.6 2.6zM218.4 126.0l2.6 -2.6l2.6 2.6l-2.6 2.6zM218.8 129.0l2.6 -2.6l2.6 2.6l-2.6 2.6zM219.1 132.8l2.6 -2.6l2.6 2.6l-2.6 2.6zM219.3 135.7l2.6 -2.6l2.6 2.6l-2.6 2.6zM219.6 139.7l2.6 -2.6l2.6 2.6l-2.6 2.6zM219.9 144.5l2.6 -2.6l2.6 2.6l-2.6 2.6zM220.1 147.9l2.6 -2.6l2.6 2.6l-2.6 2.6zM220.3 152.4l2.6 -2.6l2.6 2.6l-2.6 2.6zM220.4 157.3l2.6 -2.6l2.6 2.6l-2.6 2.6zM220.6 160.7l2.6 -2.6l2.6 2.6l-2.6 2.6zM220.7 165.5l2.6 -2.6l2.6 2.6l-2.6 2.6zM220.9 170.9l2.6 -2.6l2.6 2.6l-2.6 2.6zM221.0 175.0l2.6 -2.6l2.6 2.6l-2.6 2.6zM221.1 180.7l2.6 -2.6l2.6 2.6l-2.6 2.6zM221.3 187.4l2.6 -2.6l2.6 2.6l-2.6 2.6zM221.4 192.1l2.6 -2.6l2.6 2.6l-2.6 2.6zM221.6 198.5l2.6 -2.6l2.6 2.6l-2.6 2.6zM221.7 205.6l2.6 -2.6l2.6 2.6l-2.6 2.6zM221.8 210.4l2.6 -2.6l2.6 2.6l-2.6 2.6zM222.0 216.4l2.6 -2.6l2.6 2.6l-2.6 2.6zM222.1 222.5l2.6 -2.6l2.6 2.6l-2.6 2.6zM222.2 226.5l2.6 -2.6l2.6 2.6l-2.6 2.6zM222.3 231.8l2.6 -2.6l2.6 2.6l-2.6 2.6zM222.4 237.4l2.6 -2.6l2.6 2.6l-2.6 2.6zM222.5 241.0l2.6 -2.6l2.6 2.6l-2.6 2.6zM222.6 245.5l2.6 -2.6l2.6 2.6l-2.6 2.6zM222.7 250.2l2.6 -2.6l2.6 2.6l-2.6 2.6zM222.7 253.1l2.6 -2.6l2.6 2.6l-2.6 2.6zM222.8 256.8l2.6 -2.6l2.6 2.6l-2.6 2.6zM222.8 260.0l2.6 -2.6l2.6 2.6l-2.6 2.6zM222.9 262.9l2.6 -2.6l2.6 2.6l-2.6 2.6zM222.9 265.6l2.6 -2.6l2.6 2.6l-2.6 2.6zM223.0 268.1l2.6 -2.6l2.6 2.6l-2.6 2.6zM223.0 270.4l2.6 -2.6l2.6 2.6l-2.6 2.6zM223.1 272.5l2.6 -2.6l2.6 2.6l-2.6 2.6zM223.1 274.6l2.6 -2.6l2.6 2.6l-2.6 2.6zM223.2 276.6l2.6 -2.6l2.6 2.6l-2.6 2.6zM223.2 278.5l2.6 -2.6l2.6 2.6l-2.6 2.6zM223.2 280.2l2.6 -2.6l2.6 2.6l-2.6 2.6zM223.3 281.9l2.6 -2.6l2.6 2.6l-2.6 2.6zM223.3 283.5l2.6 -2.6l2.6 2.6l-2.6 2.6zM223.4 285.1l2.6 -2.6l2.6 2.6l-2.6 2.6zM223.4 286.6l2.6 -2.6l2.6 2.6l-2.6 2.6zM223.4 288.1l2.6 -2.6l2.6 2.6l-2.6 2.6zM223.5 289.6l2.6 -2.6l2.6 2.6l-2.6 2.6zM223.5 291.0l2.6 -2.6l2.6 2.6l-2.6 2.6zM223.6 292.4l2.6 -2.6l2.6 2.6l-2.6 2.6zM223.6 293.7l2.6 -2.6l2.6 2.6l-2.6 2.6zM223.6 295.1l2.6 -2.6l2.6 2.6l-2.6 2.6zM223.7 296.4l2.6 -2.6l2.6 2.6l-2.6 2.6zM223.7 297.6l2.6 -2.6l2.6 2.6l-2.6 2.6zM223.8 298.8l2.6 -2.6l2.6 2.6l-2.6 2.6zM223.8 300.0l2.6 -2.6l2.6 2.6l-2.6 2.6zM223.9 301.1l2.6 -2.6l2.6 2.6l-2.6 2.6zM224.0 302.1l2.6 -2.6l2.6 2.6l-2.6 2.6zM224.0 303.1l2.6 -2.6l2.6 2.6l-2.6 2.6zM224.1 304.1l2.6 -2.6l2.6 2.6l-2.6 2.6zM224.2 305.0l2.6 -2.6l2.6 2.6l-2.6 2.6zM224.3 305.9l2.6 -2.6l2.6 2.6l-2.6 2.6zM224.4 306.8l2.6 -2.6l2.6 2.6l-2.6 2.6zM224.5 307.6l2.6 -2.6l2.6 2.6l-2.6 2.6zM224.6 308.3l2.6 -2.6l2.6 2.6l-2.6 2.6zM224.7 309.1l2.6 -2.6l2.6 2.6l-2.6 2.6zM224.9 309.8l2.6 -2.6l2.6 2.6l-2.6 2.6zM225.1 310.4l2.6 -2.6l2.6 2.6l-2.6 2.6zM225.2 311.1l2.6 -2.6l2.6 2.6l-2.6 2.6zM225.4 311.7l2.6 -2.6l2.6 2.6l-2.6 2.6zM225.6 312.2l2.6 -2.6l2.6 2.6l-2.6 2.6zM225.8 312.7l2.6 -2.6l2.6 2.6l-2.6 2.6zM226.0 313.1l2.6 -2.6l2.6 2.6l-2.6 2.6zM226.2 313.5l2.6 -2.6l2.6 2.6l-2.6 2.6zM226.5 313.8l2.6 -2.6l2.6 2.6l-2.6 2.6zM226.8 314.2l2.6 -2.6l2.6 2.6l-2.6 2.6zM227.1 314.5l2.6 -2.6l2.6 2.6l-2.6 2.6zM227.4 314.8l2.6 -2.6l2.6 2.6l-2.6 2.6zM227.7 315.1l2.6 -2.6l2.6 2.6l-2.6 2.6zM228.0 315.4l2.6 -2.6l2.6 2.6l-2.6 2.6zM228.3 315.6l2.6 -2.6l2.6 2.6l-2.6 2.6zM228.7 315.7l2.6 -2.6l2.6 2.6l-2.6 2.6zM229.0 315.8l2.6 -2.6l2.6 2.6l-2.6 2.6zM229.3 315.9l2.6 -2.6l2.6 2.6l-2.6 2.6zM229.6 316.0l2.6 -2.6l2.6 2.6l-2.6 2.6zM229.9 316.0l2.6 -2.6l2.6 2.6l-2.6 2.6zM230.3 316.1l2.6 -2.6l2.6 2.6l-2.6 2.6zM230.6 316.2l2.6 -2.6l2.6 2.6l-2.6 2.6zM231.0 316.2l2.6 -2.6l2.6 2.6l-2.6 2.6zM231.3 316.3l2.6 -2.6l2.6 2.6l-2.6 2.6zM231.7 316.3l2.6 -2.6l2.6 2.6l-2.6 2.6zM232.0 316.4l2.6 -2.6l2.6 2.6l-2.6 2.6zM232.4 316.4l2.6 -2.6l2.6 2.6l-2.6 2.6zM232.8 316.4l2.6 -2.6l2.6 2.6l-2.6 2.6zM233.1 316.5l2.6 -2.6l2.6 2.6l-2.6 2.6zM233.5 316.5l2.6 -2.6l2.6 2.6l-2.6 2.6zM233.8 316.5l2.6 -2.6l2.6 2.6l-2.6 2.6zM234.2 316.5l2.6 -2.6l2.6 2.6l-2.6 2.6zM234.5 316.5l2.6 -2.6l2.6 2.6l-2.6 2.6zM234.9 316.5l2.6 -2.6l2.6 2.6l-2.6 2.6zM235.2 316.5l2.6 -2.6l2.6 2.6l-2.6 2.6zM235.6 316.5l2.6 -2.6l2.6 2.6l-2.6 2.6zM235.9 316.5l2.6 -2.6l2.6 2.6l-2.6 2.6zM236.3 316.5l2.6 -2.6l2.6 2.6l-2.6 2.6zM236.6 316.5l2.6 -2.6l2.6 2.6l-2.6 2.6zM237.0 316.5l2.6 -2.6l2.6 2.6l-2.6 2.6zM237.3 316.5l2.6 -2.6l2.6 2.6l-2.6 2.6zM237.7 316.5l2.6 -2.6l2.6 2.6l-2.6 2.6zM238.0 316.5l2.6 -2.6l2.6 2.6l-2.6 2.6zM238.4 316.5l2.6 -2.6l2.6 2.6l-2.6 2.6zM238.7 316.5l2.6 -2.6l2.6 2.6l-2.6 2.6zM239.1 316.5l2.6 -2.6l2.6 2.6l-2.6 2.6zM239.4 316.5l2.6 -2.6l2.6 2.6l-2.6 2.6zM239.8 316.5l2.6 -2.6l2.6 2.6l-2.6 2.6zM240.1 316.5l2.6 -2.6l2.6 2.6l-2.6 2.6zM240.5 316.6l2.6 -2.6l2.6 2.6l-2.6 2.6zM240.8 316.6l2.6 -2.6l2.6 2.6l-2.6 2.6zM241.2 316.6l2.6 -2.6l2.6 2.6l-2.6 2.6zM241.5 316.6l2.6 -2.6l2.6 2.6l-2.6 2.6zM241.9 316.6l2.6 -2.6l2.6 2.6l-2.6 2.6zM242.2 316.6l2.6 -2.6l2.6 2.6l-2.6 2.6zM242.6 316.6l2.6 -2.6l2.6 2.6l-2.6 2.6zM242.9 316.6l2.6 -2.6l2.6 2.6l-2.6 2.6zM243.3 316.6l2.6 -2.6l2.6 2.6l-2.6 2.6zM243.6 316.6l2.6 -2.6l2.6 2.6l-2.6 2.6zM244.0 316.6l2.6 -2.6l2.6 2.6l-2.6 2.6zM244.3 316.6l2.6 -2.6l2.6 2.6l-2.6 2.6zM244.7 316.6l2.6 -2.6l2.6 2.6l-2.6 2.6zM245.0 316.6l2.6 -2.6l2.6 2.6l-2.6 2.6zM245.4 316.6l2.6 -2.6l2.6 2.6l-2.6 2.6zM245.7 316.6l2.6 -2.6l2.6 2.6l-2.6 2.6zM246.1 316.6l2.6 -2.6l2.6 2.6l-2.6 2.6zM246.4 316.6l2.6 -2.6l2.6 2.6l-2.6 2.6zM246.8 316.6l2.6 -2.6l2.6 2.6l-2.6 2.6zM247.1 316.6l2.6 -2.6l2.6 2.6l-2.6 2.6zM247.5 316.6l2.6 -2.6l2.6 2.6l-2.6 2.6zM247.8 316.6l2.6 -2.6l2.6 2.6l-2.6 2.6zM248.2 316.6l2.6 -2.6l2.6 2.6l-2.6 2.6zM248.5 316.6l2.6 -2.6l2.6 2.6l-2.6 2.6zM248.9 316.6l2.6 -2.6l2.6 2.6l-2.6 2.6zM249.2 316.6l2.6 -2.6l2.6 2.6l-2.6 2.6zM249.6 316.6l2.6 -2.6l2.6 2.6l-2.6 2.6zM249.9 316.6l2.6 -2.6l2.6 2.6l-2.6 2.6zM250.3 316.6l2.6 -2.6l2.6 2.6l-2.6 2.6zM250.6 316.6l2.6 -2.6l2.6 2.6l-2.6 2.6zM251.0 316.6l2.6 -2.6l2.6 2.6l-2.6 2.6zM251.3 316.6l2.6 -2.6l2.6 2.6l-2.6 2.6zM251.7 316.6l2.6 -2.6l2.6 2.6l-2.6 2.6zM252.0 316.6l2.6 -2.6l2.6 2.6l-2.6 2.6zM252.4 316.6l2.6 -2.6l2.6 2.6l-2.6 2.6zM252.7 316.6l2.6 -2.6l2.6 2.6l-2.6 2.6zM253.1 316.6l2.6 -2.6l2.6 2.6l-2.6 2.6zM253.4 316.6l2.6 -2.6l2.6 2.6l-2.6 2.6zM253.8 316.6l2.6 -2.6l2.6 2.6l-2.6 2.6zM254.1 316.6l2.6 -2.6l2.6 2.6l-2.6 2.6zM254.5 316.6l2.6 -2.6l2.6 2.6l-2.6 2.6zM254.8 316.6l2.6 -2.6l2.6 2.6l-2.6 2.6zM255.2 316.6l2.6 -2.6l2.6 2.6l-2.6 2.6zM255.5 316.6l2.6 -2.6l2.6 2.6l-2.6 2.6zM257.8 316.6l2.6 -2.6l2.6 2.6l-2.6 2.6z" fill="none" stroke="#8000ff" stroke-width="1"/>
<path d="M257.9 316.6l2.6 -2.6l2.6 2.6l-2.6 2.6z" fill="#fff" stroke="#8000ff" stroke-width="1"/>
<path d="M143.2 54.4L197.0 54.4L208.4 54.5L210.9 54.6L212.5 55.2L213.5 55.9L214.7 57.1L215.6 58.9L216.6 61.8L217.6 66.4L218.8 73.6L220.9 91.2L221.8 105.4L222.8 127.5L223.7 162.0L226.4 293.2L226.8 307.4L227.1 310.5L227.4 312.4L228.0 313.7L228.7 314.5L230.0 315.0L231.6 315.1L259.2 315.1L260.3 315.1" fill="none" stroke="#f0f" stroke-width="2" stroke-linejoin="round"/>
<!-- axes -->
<path d="M64.05 21.2V375.7H538.8" fill="none" stroke="#000" stroke-width="1.9"/><path d="M537.9 375.7v6.8" fill="none" stroke="#000" stroke-width="1.8"/><path d="M64.05 375.7v6.9" fill="none" stroke="#000" stroke-width="1.9"/><path d="M63.0 22.2h-5.8M63.0 38.2h-2.9M63.0 54.3h-5.8M63.0 70.4h-2.9M63.0 86.4h-5.8M63.0 102.5h-2.9M63.0 118.6h-5.8M63.0 134.6h-2.9M63.0 150.7h-5.8M63.0 166.8h-2.9M63.0 182.8h-5.8M63.0 198.9h-2.9M63.0 215.0h-5.8M63.0 231.0h-2.9M63.0 247.1h-5.8M63.0 263.2h-2.9M63.0 279.2h-5.8M63.0 295.3h-2.9M63.0 311.4h-5.8M63.0 327.4h-2.9M63.0 343.5h-5.8M63.0 359.6h-2.9M63.0 375.7h-5.8M84.3 376.7v3.2M104.0 376.7v5.8M123.7 376.7v3.2M143.4 376.7v5.8M163.1 376.7v3.2M182.8 376.7v5.8M202.6 376.7v3.2M222.3 376.7v5.8M242.0 376.7v3.2M261.7 376.7v5.8M281.4 376.7v3.2M301.1 376.7v5.8M320.8 376.7v3.2M340.5 376.7v5.8M360.2 376.7v3.2M379.9 376.7v5.8M399.6 376.7v3.2M419.3 376.7v5.8M439.0 376.7v3.2M458.8 376.7v5.8M478.5 376.7v3.2M498.2 376.7v5.8M517.9 376.7v3.2" fill="none" stroke="#000" stroke-width="1.4"/>
<text x="52.2" y="27.4" text-anchor="end" class="tk">25</text><text x="52.2" y="59.5" text-anchor="end" class="tk">0</text><text x="52.2" y="91.6" text-anchor="end" class="tk">-25</text><text x="52.2" y="123.8" text-anchor="end" class="tk">-50</text><text x="52.2" y="155.9" text-anchor="end" class="tk">-75</text><text x="52.2" y="188.0" text-anchor="end" class="tk">-100</text><text x="52.2" y="220.2" text-anchor="end" class="tk">-125</text><text x="52.2" y="252.3" text-anchor="end" class="tk">-150</text><text x="52.2" y="284.4" text-anchor="end" class="tk">-175</text><text x="52.2" y="316.6" text-anchor="end" class="tk">-200</text><text x="52.2" y="348.7" text-anchor="end" class="tk">-225</text><text x="52.2" y="380.9" text-anchor="end" class="tk">-250</text><text x="64.6" y="400.4" text-anchor="middle" class="tk">0</text><text x="104.0" y="400.4" text-anchor="middle" class="tk">5</text><text x="143.4" y="400.4" text-anchor="middle" class="tk">10</text><text x="182.8" y="400.4" text-anchor="middle" class="tk">15</text><text x="222.3" y="400.4" text-anchor="middle" class="tk">20</text><text x="261.7" y="400.4" text-anchor="middle" class="tk">25</text><text x="301.1" y="400.4" text-anchor="middle" class="tk">30</text><text x="340.5" y="400.4" text-anchor="middle" class="tk">35</text><text x="379.9" y="400.4" text-anchor="middle" class="tk">40</text><text x="419.3" y="400.4" text-anchor="middle" class="tk">45</text><text x="458.8" y="400.4" text-anchor="middle" class="tk">50</text><text x="498.2" y="400.4" text-anchor="middle" class="tk">55</text><text x="537.6" y="400.4" text-anchor="middle" class="tk">60</text>
<text x="72.3" y="32.8" class="ti">(b) Proto-kinetic equation</text>
<text transform="translate(18.9 299.7) rotate(-90)" class="al">Heat production (kJ/kg)</text>
<text x="258.3" y="422.2" class="al" style="font-size:19px">Time (min)</text>
<!-- legends -->
<path d="M290.9 10.7h3.8v3.8h-3.8z" fill="none" stroke="#222" stroke-width="0.9"/>
<text x="316.9" y="19.0" class="lg">2 <tspan dy="-7.9" dx="0.3" class="sup">o</tspan><tspan dy="7.9">C/min-experimental</tspan></text>
<path d="M273 37.7H312" stroke="#f00" stroke-width="2"/>
<text x="316.9" y="43.5" class="lg">2 <tspan dy="-7.9" dx="0.3" class="sup">o</tspan><tspan dy="7.9">C/min-simulation</tspan></text>
<path d="M85.7 340.7l2.8 -2.8l2.8 2.8l-2.8 2.8z" fill="none" stroke="#8000ff" stroke-width="0.9"/>
<text x="112.3" y="346.9" class="lg">6 <tspan dy="-7.9" dx="0.3" class="sup">o</tspan><tspan dy="7.9">C/min-experimental</tspan></text>
<path d="M68.3 365.9H108.3" stroke="#f0f" stroke-width="2"/>
<text x="112.3" y="371.3" class="lg">6 <tspan dy="-7.9" dx="0.3" class="sup">o</tspan><tspan dy="7.9">C/min-simulation</tspan></text>
<path d="M331.2 332.3l2.7 5.2h-5.4z" fill="none" stroke="#0f0" stroke-width="0.9"/>
<text x="355.0" y="342.0" class="lg">4 <tspan dy="-7.9" dx="0.3" class="sup">o</tspan><tspan dy="7.9">C/min-experimental</tspan></text>
<path d="M311.5 361H351" stroke="#00f" stroke-width="2"/>
<text x="355.0" y="367.0" class="lg">4 <tspan dy="-7.9" dx="0.3" class="sup">o</tspan><tspan dy="7.9">C/min-simulation</tspan></text>
<!-- arrows -->
<path d="M378.0 46.5L359.6 59.6" fill="none" stroke="#000" stroke-width="1"/><path d="M353.1 64.3L358.6 56.5L362.2 61.6z" fill="#000"/>
<path d="M134.5 330.3L211.0 214.3" fill="none" stroke="#000" stroke-width="1"/><path d="M215.4 207.6L213.0 216.8L207.9 213.4z" fill="#000"/>
<path d="M374.6 323.6L277.0 238.0" fill="none" stroke="#000" stroke-width="1"/><path d="M271.0 232.7L279.8 236.3L275.7 241.0z" fill="#000"/>
</svg>
</body></html>
